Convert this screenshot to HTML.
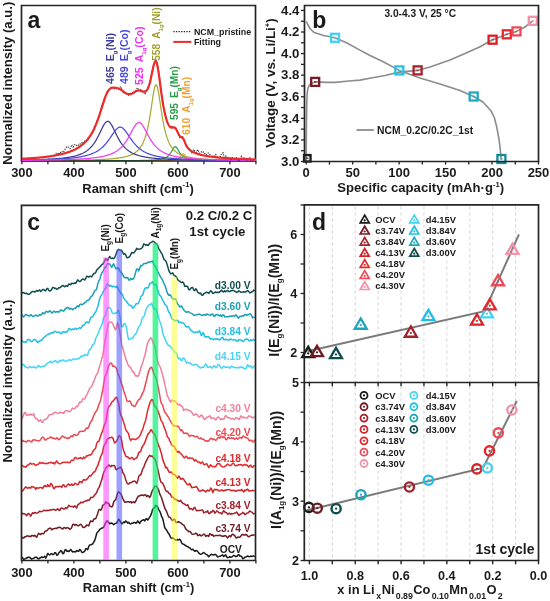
<!DOCTYPE html>
<html><head><meta charset="utf-8"><title>Raman figure</title>
<style>html,body{margin:0;padding:0;background:#fff;} svg{display:block;filter:blur(0.4px);}</style></head>
<body><svg width="550" height="601" viewBox="0 0 550 601">
<rect width="550" height="601" fill="#fff"/>
<g id="pa">
<path d="M21.9 160.8L22.42 160.8L22.94 160.8L23.46 160.8L23.98 160.8L24.5 160.8L25.02 160.8L25.54 160.8L26.06 160.8L26.58 160.8L27.1 160.8L27.62 160.8L28.14 160.8L28.66 160.8L29.18 160.8L29.7 160.8L30.22 160.8L30.74 160.8L31.26 160.8L31.78 160.8L32.3 160.8L32.82 160.8L33.34 160.8L33.86 160.8L34.38 160.8L34.9 160.8L35.42 160.8L35.94 160.8L36.46 160.8L36.98 160.8L37.5 160.8L38.02 160.8L38.54 160.8L39.06 160.8L39.58 160.8L40.1 160.8L40.62 160.8L41.14 160.8L41.66 160.8L42.18 160.8L42.7 160.8L43.22 160.8L43.74 160.8L44.26 160.8L44.78 160.8L45.3 160.8L45.82 160.8L46.34 160.8L46.86 160.8L47.38 160.8L47.9 160.8L48.42 160.8L48.94 160.8L49.46 160.8L49.98 160.8L50.5 160.8L51.02 160.8L51.54 160.8L52.06 160.8L52.58 160.8L53.1 160.8L53.62 160.8L54.14 160.8L54.66 160.8L55.18 160.8L55.7 160.8L56.22 160.8L56.74 160.8L57.26 160.8L57.78 160.8L58.3 160.8L58.82 160.8L59.34 160.8L59.86 160.8L60.38 160.8L60.9 160.8L61.42 160.8L61.94 160.8L62.46 160.8L62.98 160.8L63.5 160.8L64.02 160.8L64.54 160.8L65.06 160.8L65.58 160.8L66.1 160.8L66.62 160.79L67.14 160.79L67.66 160.79L68.18 160.79L68.7 160.79L69.22 160.79L69.74 160.79L70.26 160.79L70.78 160.79L71.3 160.79L71.82 160.79L72.34 160.79L72.86 160.79L73.38 160.79L73.9 160.79L74.42 160.79L74.94 160.79L75.46 160.79L75.98 160.79L76.5 160.79L77.02 160.79L77.54 160.79L78.06 160.79L78.58 160.79L79.1 160.79L79.62 160.79L80.14 160.79L80.66 160.79L81.18 160.79L81.7 160.79L82.22 160.79L82.74 160.79L83.26 160.79L83.78 160.79L84.3 160.79L84.82 160.79L85.34 160.79L85.86 160.79L86.38 160.79L86.9 160.79L87.42 160.79L87.94 160.79L88.46 160.79L88.98 160.79L89.5 160.79L90.02 160.79L90.54 160.79L91.06 160.79L91.58 160.79L92.1 160.79L92.62 160.79L93.14 160.79L93.66 160.79L94.18 160.79L94.7 160.79L95.22 160.79L95.74 160.79L96.26 160.79L96.78 160.79L97.3 160.79L97.82 160.79L98.34 160.79L98.86 160.79L99.38 160.79L99.9 160.79L100.42 160.79L100.94 160.79L101.46 160.79L101.98 160.79L102.5 160.79L103.02 160.79L103.54 160.79L104.06 160.79L104.58 160.79L105.1 160.79L105.62 160.79L106.14 160.79L106.66 160.79L107.18 160.79L107.7 160.79L108.22 160.79L108.74 160.79L109.26 160.79L109.78 160.79L110.3 160.79L110.82 160.79L111.34 160.79L111.86 160.79L112.38 160.79L112.9 160.79L113.42 160.79L113.94 160.79L114.46 160.79L114.98 160.79L115.5 160.79L116.02 160.78L116.54 160.78L117.06 160.78L117.58 160.78L118.1 160.78L118.62 160.78L119.14 160.78L119.66 160.78L120.18 160.78L120.7 160.78L121.22 160.78L121.74 160.78L122.26 160.78L122.78 160.78L123.3 160.78L123.82 160.78L124.34 160.78L124.86 160.78L125.38 160.78L125.9 160.78L126.42 160.78L126.94 160.78L127.46 160.78L127.98 160.78L128.5 160.78L129.02 160.78L129.54 160.78L130.06 160.78L130.58 160.78L131.1 160.77L131.62 160.77L132.14 160.77L132.66 160.77L133.18 160.77L133.7 160.77L134.22 160.77L134.74 160.77L135.26 160.77L135.78 160.77L136.3 160.77L136.82 160.77L137.34 160.77L137.86 160.77L138.38 160.77L138.9 160.77L139.42 160.76L139.94 160.76L140.46 160.76L140.98 160.76L141.5 160.76L142.02 160.76L142.54 160.76L143.06 160.76L143.58 160.76L144.1 160.76L144.62 160.75L145.14 160.75L145.66 160.75L146.18 160.75L146.7 160.75L147.22 160.75L147.74 160.75L148.26 160.74L148.78 160.74L149.3 160.74L149.82 160.74L150.34 160.74L150.86 160.74L151.38 160.73L151.9 160.73L152.42 160.73L152.94 160.73L153.46 160.72L153.98 160.72L154.5 160.72L155.02 160.71L155.54 160.71L156.06 160.71L156.58 160.7L157.1 160.7L157.62 160.7L158.14 160.69L158.66 160.69L159.18 160.68L159.7 160.68L160.22 160.67L160.74 160.67L161.26 160.66L161.78 160.65L162.3 160.65L162.82 160.64L163.34 160.63L163.86 160.62L164.38 160.61L164.9 160.6L165.42 160.59L165.94 160.58L166.46 160.56L166.98 160.55L167.5 160.53L168.02 160.51L168.54 160.49L169.06 160.47L169.58 160.45L170.1 160.42L170.62 160.39L171.14 160.35L171.66 160.32L172.18 160.27L172.7 160.22L173.22 160.17L173.74 160.1L174.26 160.02L174.78 159.94L175.3 159.83L175.82 159.71L176.34 159.57L176.86 159.4L177.38 159.19L177.9 158.95L178.42 158.65L178.94 158.28L179.46 157.84L179.98 157.3L180.5 156.67L181.02 155.95L181.54 155.2L182.06 154.5L182.58 153.99L183.1 153.8L183.62 153.99L184.14 154.5L184.66 155.2L185.18 155.95L185.7 156.67L186.22 157.3L186.74 157.84L187.26 158.28L187.78 158.65L188.3 158.95L188.82 159.19L189.34 159.4L189.86 159.57L190.38 159.71L190.9 159.83L191.42 159.94L191.94 160.02L192.46 160.1L192.98 160.17L193.5 160.22L194.02 160.27L194.54 160.32L195.06 160.35L195.58 160.39L196.1 160.42L196.62 160.45L197.14 160.47L197.66 160.49L198.18 160.51L198.7 160.53L199.22 160.55L199.74 160.56L200.26 160.58L200.78 160.59L201.3 160.6L201.82 160.61L202.34 160.62L202.86 160.63L203.38 160.64L203.9 160.65L204.42 160.65L204.94 160.66L205.46 160.67L205.98 160.67L206.5 160.68L207.02 160.68L207.54 160.69L208.06 160.69L208.58 160.7L209.1 160.7L209.62 160.7L210.14 160.71L210.66 160.71L211.18 160.71L211.7 160.72L212.22 160.72L212.74 160.72L213.26 160.73L213.78 160.73L214.3 160.73L214.82 160.73L215.34 160.74L215.86 160.74L216.38 160.74L216.9 160.74L217.42 160.74L217.94 160.74L218.46 160.75L218.98 160.75L219.5 160.75L220.02 160.75L220.54 160.75L221.06 160.75L221.58 160.75L222.1 160.76L222.62 160.76L223.14 160.76L223.66 160.76L224.18 160.76L224.7 160.76L225.22 160.76L225.74 160.76L226.26 160.76L226.78 160.76L227.3 160.77L227.82 160.77L228.34 160.77L228.86 160.77L229.38 160.77L229.9 160.77L230.42 160.77L230.94 160.77L231.46 160.77L231.98 160.77L232.5 160.77L233.02 160.77L233.54 160.77L234.06 160.77L234.58 160.77L235.1 160.77L235.62 160.78L236.14 160.78L236.66 160.78L237.18 160.78L237.7 160.78L238.22 160.78L238.74 160.78L239.26 160.78L239.78 160.78L240.3 160.78L240.82 160.78L241.34 160.78L241.86 160.78L242.38 160.78L242.9 160.78L243.42 160.78L243.94 160.78L244.46 160.78L244.98 160.78L245.5 160.78L246.02 160.78L246.54 160.78L247.06 160.78L247.58 160.78L248.1 160.78L248.62 160.78L249.14 160.78L249.66 160.78L250.18 160.78L250.7 160.79L251.22 160.79L251.74 160.79L252.26 160.79L252.78 160.79L253.3 160.79L253.82 160.79L254.34 160.79L254.86 160.79L255.38 160.79L255.9 160.79" fill="none" stroke="#f5a030" stroke-width="1.25"/>
<path d="M21.9 160.78L22.42 160.78L22.94 160.78L23.46 160.78L23.98 160.78L24.5 160.78L25.02 160.78L25.54 160.78L26.06 160.78L26.58 160.78L27.1 160.78L27.62 160.78L28.14 160.78L28.66 160.78L29.18 160.78L29.7 160.78L30.22 160.78L30.74 160.78L31.26 160.78L31.78 160.78L32.3 160.78L32.82 160.78L33.34 160.78L33.86 160.78L34.38 160.78L34.9 160.78L35.42 160.78L35.94 160.78L36.46 160.78L36.98 160.78L37.5 160.78L38.02 160.78L38.54 160.78L39.06 160.78L39.58 160.78L40.1 160.78L40.62 160.78L41.14 160.78L41.66 160.78L42.18 160.78L42.7 160.78L43.22 160.78L43.74 160.78L44.26 160.78L44.78 160.78L45.3 160.78L45.82 160.78L46.34 160.78L46.86 160.78L47.38 160.78L47.9 160.78L48.42 160.78L48.94 160.78L49.46 160.78L49.98 160.78L50.5 160.78L51.02 160.78L51.54 160.78L52.06 160.77L52.58 160.77L53.1 160.77L53.62 160.77L54.14 160.77L54.66 160.77L55.18 160.77L55.7 160.77L56.22 160.77L56.74 160.77L57.26 160.77L57.78 160.77L58.3 160.77L58.82 160.77L59.34 160.77L59.86 160.77L60.38 160.77L60.9 160.77L61.42 160.77L61.94 160.77L62.46 160.77L62.98 160.77L63.5 160.77L64.02 160.77L64.54 160.77L65.06 160.77L65.58 160.77L66.1 160.77L66.62 160.77L67.14 160.77L67.66 160.77L68.18 160.77L68.7 160.77L69.22 160.77L69.74 160.77L70.26 160.77L70.78 160.77L71.3 160.76L71.82 160.76L72.34 160.76L72.86 160.76L73.38 160.76L73.9 160.76L74.42 160.76L74.94 160.76L75.46 160.76L75.98 160.76L76.5 160.76L77.02 160.76L77.54 160.76L78.06 160.76L78.58 160.76L79.1 160.76L79.62 160.76L80.14 160.76L80.66 160.76L81.18 160.76L81.7 160.76L82.22 160.76L82.74 160.76L83.26 160.76L83.78 160.75L84.3 160.75L84.82 160.75L85.34 160.75L85.86 160.75L86.38 160.75L86.9 160.75L87.42 160.75L87.94 160.75L88.46 160.75L88.98 160.75L89.5 160.75L90.02 160.75L90.54 160.75L91.06 160.75L91.58 160.75L92.1 160.75L92.62 160.74L93.14 160.74L93.66 160.74L94.18 160.74L94.7 160.74L95.22 160.74L95.74 160.74L96.26 160.74L96.78 160.74L97.3 160.74L97.82 160.74L98.34 160.74L98.86 160.74L99.38 160.73L99.9 160.73L100.42 160.73L100.94 160.73L101.46 160.73L101.98 160.73L102.5 160.73L103.02 160.73L103.54 160.73L104.06 160.73L104.58 160.72L105.1 160.72L105.62 160.72L106.14 160.72L106.66 160.72L107.18 160.72L107.7 160.72L108.22 160.72L108.74 160.71L109.26 160.71L109.78 160.71L110.3 160.71L110.82 160.71L111.34 160.71L111.86 160.71L112.38 160.7L112.9 160.7L113.42 160.7L113.94 160.7L114.46 160.7L114.98 160.7L115.5 160.69L116.02 160.69L116.54 160.69L117.06 160.69L117.58 160.69L118.1 160.68L118.62 160.68L119.14 160.68L119.66 160.68L120.18 160.68L120.7 160.67L121.22 160.67L121.74 160.67L122.26 160.67L122.78 160.66L123.3 160.66L123.82 160.66L124.34 160.65L124.86 160.65L125.38 160.65L125.9 160.65L126.42 160.64L126.94 160.64L127.46 160.64L127.98 160.63L128.5 160.63L129.02 160.62L129.54 160.62L130.06 160.62L130.58 160.61L131.1 160.61L131.62 160.6L132.14 160.6L132.66 160.59L133.18 160.59L133.7 160.58L134.22 160.58L134.74 160.57L135.26 160.57L135.78 160.56L136.3 160.55L136.82 160.55L137.34 160.54L137.86 160.53L138.38 160.53L138.9 160.52L139.42 160.51L139.94 160.5L140.46 160.49L140.98 160.48L141.5 160.47L142.02 160.46L142.54 160.45L143.06 160.44L143.58 160.43L144.1 160.42L144.62 160.41L145.14 160.39L145.66 160.38L146.18 160.36L146.7 160.35L147.22 160.33L147.74 160.32L148.26 160.3L148.78 160.28L149.3 160.26L149.82 160.24L150.34 160.21L150.86 160.19L151.38 160.16L151.9 160.14L152.42 160.11L152.94 160.08L153.46 160.04L153.98 160.01L154.5 159.97L155.02 159.93L155.54 159.89L156.06 159.84L156.58 159.79L157.1 159.74L157.62 159.68L158.14 159.61L158.66 159.55L159.18 159.47L159.7 159.39L160.22 159.3L160.74 159.2L161.26 159.1L161.78 158.98L162.3 158.86L162.82 158.71L163.34 158.56L163.86 158.39L164.38 158.19L164.9 157.98L165.42 157.74L165.94 157.47L166.46 157.18L166.98 156.84L167.5 156.46L168.02 156.04L168.54 155.56L169.06 155.02L169.58 154.42L170.1 153.75L170.62 153.01L171.14 152.2L171.66 151.34L172.18 150.43L172.7 149.52L173.22 148.64L173.74 147.86L174.26 147.24L174.78 146.84L175.3 146.7L175.82 146.84L176.34 147.24L176.86 147.86L177.38 148.64L177.9 149.52L178.42 150.43L178.94 151.34L179.46 152.2L179.98 153.01L180.5 153.75L181.02 154.42L181.54 155.02L182.06 155.56L182.58 156.04L183.1 156.46L183.62 156.84L184.14 157.18L184.66 157.47L185.18 157.74L185.7 157.98L186.22 158.19L186.74 158.39L187.26 158.56L187.78 158.71L188.3 158.86L188.82 158.98L189.34 159.1L189.86 159.2L190.38 159.3L190.9 159.39L191.42 159.47L191.94 159.55L192.46 159.61L192.98 159.68L193.5 159.74L194.02 159.79L194.54 159.84L195.06 159.89L195.58 159.93L196.1 159.97L196.62 160.01L197.14 160.04L197.66 160.08L198.18 160.11L198.7 160.14L199.22 160.16L199.74 160.19L200.26 160.21L200.78 160.24L201.3 160.26L201.82 160.28L202.34 160.3L202.86 160.32L203.38 160.33L203.9 160.35L204.42 160.36L204.94 160.38L205.46 160.39L205.98 160.41L206.5 160.42L207.02 160.43L207.54 160.44L208.06 160.45L208.58 160.46L209.1 160.47L209.62 160.48L210.14 160.49L210.66 160.5L211.18 160.51L211.7 160.52L212.22 160.53L212.74 160.53L213.26 160.54L213.78 160.55L214.3 160.55L214.82 160.56L215.34 160.57L215.86 160.57L216.38 160.58L216.9 160.58L217.42 160.59L217.94 160.59L218.46 160.6L218.98 160.6L219.5 160.61L220.02 160.61L220.54 160.62L221.06 160.62L221.58 160.62L222.1 160.63L222.62 160.63L223.14 160.64L223.66 160.64L224.18 160.64L224.7 160.65L225.22 160.65L225.74 160.65L226.26 160.65L226.78 160.66L227.3 160.66L227.82 160.66L228.34 160.67L228.86 160.67L229.38 160.67L229.9 160.67L230.42 160.68L230.94 160.68L231.46 160.68L231.98 160.68L232.5 160.68L233.02 160.69L233.54 160.69L234.06 160.69L234.58 160.69L235.1 160.69L235.62 160.7L236.14 160.7L236.66 160.7L237.18 160.7L237.7 160.7L238.22 160.7L238.74 160.71L239.26 160.71L239.78 160.71L240.3 160.71L240.82 160.71L241.34 160.71L241.86 160.71L242.38 160.72L242.9 160.72L243.42 160.72L243.94 160.72L244.46 160.72L244.98 160.72L245.5 160.72L246.02 160.72L246.54 160.73L247.06 160.73L247.58 160.73L248.1 160.73L248.62 160.73L249.14 160.73L249.66 160.73L250.18 160.73L250.7 160.73L251.22 160.73L251.74 160.74L252.26 160.74L252.78 160.74L253.3 160.74L253.82 160.74L254.34 160.74L254.86 160.74L255.38 160.74L255.9 160.74" fill="none" stroke="#2ca048" stroke-width="1.25"/>
<path d="M21.9 160.58L22.42 160.58L22.94 160.57L23.46 160.57L23.98 160.57L24.5 160.57L25.02 160.57L25.54 160.56L26.06 160.56L26.58 160.56L27.1 160.56L27.62 160.56L28.14 160.55L28.66 160.55L29.18 160.55L29.7 160.55L30.22 160.55L30.74 160.54L31.26 160.54L31.78 160.54L32.3 160.54L32.82 160.54L33.34 160.53L33.86 160.53L34.38 160.53L34.9 160.53L35.42 160.52L35.94 160.52L36.46 160.52L36.98 160.52L37.5 160.51L38.02 160.51L38.54 160.51L39.06 160.51L39.58 160.5L40.1 160.5L40.62 160.5L41.14 160.5L41.66 160.49L42.18 160.49L42.7 160.49L43.22 160.48L43.74 160.48L44.26 160.48L44.78 160.48L45.3 160.47L45.82 160.47L46.34 160.47L46.86 160.46L47.38 160.46L47.9 160.46L48.42 160.45L48.94 160.45L49.46 160.45L49.98 160.44L50.5 160.44L51.02 160.44L51.54 160.43L52.06 160.43L52.58 160.43L53.1 160.42L53.62 160.42L54.14 160.41L54.66 160.41L55.18 160.41L55.7 160.4L56.22 160.4L56.74 160.39L57.26 160.39L57.78 160.39L58.3 160.38L58.82 160.38L59.34 160.37L59.86 160.37L60.38 160.36L60.9 160.36L61.42 160.35L61.94 160.35L62.46 160.34L62.98 160.34L63.5 160.33L64.02 160.33L64.54 160.32L65.06 160.32L65.58 160.31L66.1 160.31L66.62 160.3L67.14 160.29L67.66 160.29L68.18 160.28L68.7 160.28L69.22 160.27L69.74 160.26L70.26 160.26L70.78 160.25L71.3 160.24L71.82 160.24L72.34 160.23L72.86 160.22L73.38 160.22L73.9 160.21L74.42 160.2L74.94 160.19L75.46 160.18L75.98 160.18L76.5 160.17L77.02 160.16L77.54 160.15L78.06 160.14L78.58 160.13L79.1 160.13L79.62 160.12L80.14 160.11L80.66 160.1L81.18 160.09L81.7 160.08L82.22 160.07L82.74 160.06L83.26 160.05L83.78 160.04L84.3 160.03L84.82 160.01L85.34 160L85.86 159.99L86.38 159.98L86.9 159.97L87.42 159.95L87.94 159.94L88.46 159.93L88.98 159.92L89.5 159.9L90.02 159.89L90.54 159.87L91.06 159.86L91.58 159.84L92.1 159.83L92.62 159.81L93.14 159.8L93.66 159.78L94.18 159.76L94.7 159.75L95.22 159.73L95.74 159.71L96.26 159.69L96.78 159.67L97.3 159.65L97.82 159.63L98.34 159.61L98.86 159.59L99.38 159.57L99.9 159.54L100.42 159.52L100.94 159.5L101.46 159.47L101.98 159.45L102.5 159.42L103.02 159.39L103.54 159.37L104.06 159.34L104.58 159.31L105.1 159.28L105.62 159.25L106.14 159.22L106.66 159.18L107.18 159.15L107.7 159.12L108.22 159.08L108.74 159.04L109.26 159L109.78 158.96L110.3 158.92L110.82 158.88L111.34 158.84L111.86 158.79L112.38 158.75L112.9 158.7L113.42 158.65L113.94 158.6L114.46 158.54L114.98 158.49L115.5 158.43L116.02 158.37L116.54 158.31L117.06 158.24L117.58 158.17L118.1 158.1L118.62 158.03L119.14 157.96L119.66 157.88L120.18 157.79L120.7 157.71L121.22 157.62L121.74 157.53L122.26 157.43L122.78 157.33L123.3 157.22L123.82 157.11L124.34 157L124.86 156.88L125.38 156.75L125.9 156.62L126.42 156.48L126.94 156.33L127.46 156.18L127.98 156.01L128.5 155.84L129.02 155.66L129.54 155.47L130.06 155.27L130.58 155.06L131.1 154.84L131.62 154.61L132.14 154.36L132.66 154.09L133.18 153.81L133.7 153.52L134.22 153.2L134.74 152.86L135.26 152.51L135.78 152.12L136.3 151.72L136.82 151.28L137.34 150.82L137.86 150.32L138.38 149.78L138.9 149.21L139.42 148.59L139.94 147.93L140.46 147.21L140.98 146.44L141.5 145.6L142.02 144.7L142.54 143.72L143.06 142.66L143.58 141.5L144.1 140.25L144.62 138.89L145.14 137.42L145.66 135.81L146.18 134.06L146.7 132.15L147.22 130.09L147.74 127.84L148.26 125.42L148.78 122.8L149.3 119.99L149.82 116.99L150.34 113.81L150.86 110.48L151.38 107.02L151.9 103.51L152.42 100L152.94 96.59L153.46 93.4L153.98 90.54L154.5 88.14L155.02 86.32L155.54 85.19L156.06 84.8L156.58 85.19L157.1 86.32L157.62 88.14L158.14 90.54L158.66 93.4L159.18 96.59L159.7 100L160.22 103.51L160.74 107.02L161.26 110.48L161.78 113.81L162.3 116.99L162.82 119.99L163.34 122.8L163.86 125.42L164.38 127.84L164.9 130.09L165.42 132.15L165.94 134.06L166.46 135.81L166.98 137.42L167.5 138.89L168.02 140.25L168.54 141.5L169.06 142.66L169.58 143.72L170.1 144.7L170.62 145.6L171.14 146.44L171.66 147.21L172.18 147.93L172.7 148.59L173.22 149.21L173.74 149.78L174.26 150.32L174.78 150.82L175.3 151.28L175.82 151.72L176.34 152.12L176.86 152.51L177.38 152.86L177.9 153.2L178.42 153.52L178.94 153.81L179.46 154.09L179.98 154.36L180.5 154.61L181.02 154.84L181.54 155.06L182.06 155.27L182.58 155.47L183.1 155.66L183.62 155.84L184.14 156.01L184.66 156.18L185.18 156.33L185.7 156.48L186.22 156.62L186.74 156.75L187.26 156.88L187.78 157L188.3 157.11L188.82 157.22L189.34 157.33L189.86 157.43L190.38 157.53L190.9 157.62L191.42 157.71L191.94 157.79L192.46 157.88L192.98 157.96L193.5 158.03L194.02 158.1L194.54 158.17L195.06 158.24L195.58 158.31L196.1 158.37L196.62 158.43L197.14 158.49L197.66 158.54L198.18 158.6L198.7 158.65L199.22 158.7L199.74 158.75L200.26 158.79L200.78 158.84L201.3 158.88L201.82 158.92L202.34 158.96L202.86 159L203.38 159.04L203.9 159.08L204.42 159.12L204.94 159.15L205.46 159.18L205.98 159.22L206.5 159.25L207.02 159.28L207.54 159.31L208.06 159.34L208.58 159.37L209.1 159.39L209.62 159.42L210.14 159.45L210.66 159.47L211.18 159.5L211.7 159.52L212.22 159.54L212.74 159.57L213.26 159.59L213.78 159.61L214.3 159.63L214.82 159.65L215.34 159.67L215.86 159.69L216.38 159.71L216.9 159.73L217.42 159.75L217.94 159.76L218.46 159.78L218.98 159.8L219.5 159.81L220.02 159.83L220.54 159.84L221.06 159.86L221.58 159.87L222.1 159.89L222.62 159.9L223.14 159.92L223.66 159.93L224.18 159.94L224.7 159.95L225.22 159.97L225.74 159.98L226.26 159.99L226.78 160L227.3 160.01L227.82 160.03L228.34 160.04L228.86 160.05L229.38 160.06L229.9 160.07L230.42 160.08L230.94 160.09L231.46 160.1L231.98 160.11L232.5 160.12L233.02 160.13L233.54 160.13L234.06 160.14L234.58 160.15L235.1 160.16L235.62 160.17L236.14 160.18L236.66 160.18L237.18 160.19L237.7 160.2L238.22 160.21L238.74 160.22L239.26 160.22L239.78 160.23L240.3 160.24L240.82 160.24L241.34 160.25L241.86 160.26L242.38 160.26L242.9 160.27L243.42 160.28L243.94 160.28L244.46 160.29L244.98 160.29L245.5 160.3L246.02 160.31L246.54 160.31L247.06 160.32L247.58 160.32L248.1 160.33L248.62 160.33L249.14 160.34L249.66 160.34L250.18 160.35L250.7 160.35L251.22 160.36L251.74 160.36L252.26 160.37L252.78 160.37L253.3 160.38L253.82 160.38L254.34 160.39L254.86 160.39L255.38 160.39L255.9 160.4" fill="none" stroke="#a8a832" stroke-width="1.25"/>
<path d="M21.5 5.5H255.5V161H21.5Z" fill="none" stroke="#242424" stroke-width="1.7"/>
<path d="M21.9 160.02L22.42 160.01L22.94 160L23.46 159.99L23.98 159.98L24.5 159.97L25.02 159.96L25.54 159.95L26.06 159.94L26.58 159.93L27.1 159.92L27.62 159.91L28.14 159.9L28.66 159.89L29.18 159.87L29.7 159.86L30.22 159.85L30.74 159.84L31.26 159.82L31.78 159.81L32.3 159.8L32.82 159.78L33.34 159.77L33.86 159.76L34.38 159.74L34.9 159.73L35.42 159.71L35.94 159.7L36.46 159.68L36.98 159.66L37.5 159.65L38.02 159.63L38.54 159.61L39.06 159.6L39.58 159.58L40.1 159.56L40.62 159.54L41.14 159.52L41.66 159.5L42.18 159.48L42.7 159.46L43.22 159.44L43.74 159.42L44.26 159.4L44.78 159.38L45.3 159.35L45.82 159.33L46.34 159.31L46.86 159.28L47.38 159.26L47.9 159.23L48.42 159.2L48.94 159.18L49.46 159.15L49.98 159.12L50.5 159.09L51.02 159.06L51.54 159.03L52.06 159L52.58 158.96L53.1 158.93L53.62 158.9L54.14 158.86L54.66 158.83L55.18 158.79L55.7 158.75L56.22 158.71L56.74 158.67L57.26 158.63L57.78 158.58L58.3 158.54L58.82 158.5L59.34 158.45L59.86 158.4L60.38 158.35L60.9 158.3L61.42 158.25L61.94 158.19L62.46 158.14L62.98 158.08L63.5 158.02L64.02 157.96L64.54 157.89L65.06 157.83L65.58 157.76L66.1 157.69L66.62 157.61L67.14 157.54L67.66 157.46L68.18 157.38L68.7 157.3L69.22 157.21L69.74 157.12L70.26 157.03L70.78 156.93L71.3 156.83L71.82 156.73L72.34 156.62L72.86 156.51L73.38 156.39L73.9 156.27L74.42 156.14L74.94 156.01L75.46 155.87L75.98 155.73L76.5 155.59L77.02 155.43L77.54 155.27L78.06 155.1L78.58 154.93L79.1 154.75L79.62 154.56L80.14 154.36L80.66 154.15L81.18 153.93L81.7 153.7L82.22 153.46L82.74 153.22L83.26 152.95L83.78 152.68L84.3 152.39L84.82 152.09L85.34 151.78L85.86 151.44L86.38 151.09L86.9 150.73L87.42 150.34L87.94 149.94L88.46 149.51L88.98 149.07L89.5 148.6L90.02 148.1L90.54 147.58L91.06 147.04L91.58 146.46L92.1 145.86L92.62 145.22L93.14 144.56L93.66 143.86L94.18 143.12L94.7 142.35L95.22 141.55L95.74 140.71L96.26 139.83L96.78 138.92L97.3 137.97L97.82 136.99L98.34 135.98L98.86 134.95L99.38 133.88L99.9 132.8L100.42 131.71L100.94 130.62L101.46 129.52L101.98 128.45L102.5 127.4L103.02 126.39L103.54 125.43L104.06 124.54L104.58 123.74L105.1 123.02L105.62 122.42L106.14 121.94L106.66 121.59L107.18 121.37L107.7 121.3L108.22 121.37L108.74 121.59L109.26 121.94L109.78 122.42L110.3 123.02L110.82 123.74L111.34 124.54L111.86 125.43L112.38 126.39L112.9 127.4L113.42 128.45L113.94 129.52L114.46 130.62L114.98 131.71L115.5 132.8L116.02 133.88L116.54 134.95L117.06 135.98L117.58 136.99L118.1 137.97L118.62 138.92L119.14 139.83L119.66 140.71L120.18 141.55L120.7 142.35L121.22 143.12L121.74 143.86L122.26 144.56L122.78 145.22L123.3 145.86L123.82 146.46L124.34 147.04L124.86 147.58L125.38 148.1L125.9 148.6L126.42 149.07L126.94 149.51L127.46 149.94L127.98 150.34L128.5 150.73L129.02 151.09L129.54 151.44L130.06 151.78L130.58 152.09L131.1 152.39L131.62 152.68L132.14 152.95L132.66 153.22L133.18 153.46L133.7 153.7L134.22 153.93L134.74 154.15L135.26 154.36L135.78 154.56L136.3 154.75L136.82 154.93L137.34 155.1L137.86 155.27L138.38 155.43L138.9 155.59L139.42 155.73L139.94 155.87L140.46 156.01L140.98 156.14L141.5 156.27L142.02 156.39L142.54 156.51L143.06 156.62L143.58 156.73L144.1 156.83L144.62 156.93L145.14 157.03L145.66 157.12L146.18 157.21L146.7 157.3L147.22 157.38L147.74 157.46L148.26 157.54L148.78 157.61L149.3 157.69L149.82 157.76L150.34 157.83L150.86 157.89L151.38 157.96L151.9 158.02L152.42 158.08L152.94 158.14L153.46 158.19L153.98 158.25L154.5 158.3L155.02 158.35L155.54 158.4L156.06 158.45L156.58 158.5L157.1 158.54L157.62 158.58L158.14 158.63L158.66 158.67L159.18 158.71L159.7 158.75L160.22 158.79L160.74 158.83L161.26 158.86L161.78 158.9L162.3 158.93L162.82 158.96L163.34 159L163.86 159.03L164.38 159.06L164.9 159.09L165.42 159.12L165.94 159.15L166.46 159.18L166.98 159.2L167.5 159.23L168.02 159.26L168.54 159.28L169.06 159.31L169.58 159.33L170.1 159.35L170.62 159.38L171.14 159.4L171.66 159.42L172.18 159.44L172.7 159.46L173.22 159.48L173.74 159.5L174.26 159.52L174.78 159.54L175.3 159.56L175.82 159.58L176.34 159.6L176.86 159.61L177.38 159.63L177.9 159.65L178.42 159.66L178.94 159.68L179.46 159.7L179.98 159.71L180.5 159.73L181.02 159.74L181.54 159.76L182.06 159.77L182.58 159.78L183.1 159.8L183.62 159.81L184.14 159.82L184.66 159.84L185.18 159.85L185.7 159.86L186.22 159.87L186.74 159.89L187.26 159.9L187.78 159.91L188.3 159.92L188.82 159.93L189.34 159.94L189.86 159.95L190.38 159.96L190.9 159.97L191.42 159.98L191.94 159.99L192.46 160L192.98 160.01L193.5 160.02L194.02 160.03L194.54 160.04L195.06 160.05L195.58 160.06L196.1 160.07L196.62 160.07L197.14 160.08L197.66 160.09L198.18 160.1L198.7 160.11L199.22 160.11L199.74 160.12L200.26 160.13L200.78 160.14L201.3 160.14L201.82 160.15L202.34 160.16L202.86 160.16L203.38 160.17L203.9 160.18L204.42 160.18L204.94 160.19L205.46 160.2L205.98 160.2L206.5 160.21L207.02 160.22L207.54 160.22L208.06 160.23L208.58 160.23L209.1 160.24L209.62 160.24L210.14 160.25L210.66 160.26L211.18 160.26L211.7 160.27L212.22 160.27L212.74 160.28L213.26 160.28L213.78 160.29L214.3 160.29L214.82 160.3L215.34 160.3L215.86 160.31L216.38 160.31L216.9 160.32L217.42 160.32L217.94 160.32L218.46 160.33L218.98 160.33L219.5 160.34L220.02 160.34L220.54 160.35L221.06 160.35L221.58 160.35L222.1 160.36L222.62 160.36L223.14 160.37L223.66 160.37L224.18 160.37L224.7 160.38L225.22 160.38L225.74 160.38L226.26 160.39L226.78 160.39L227.3 160.4L227.82 160.4L228.34 160.4L228.86 160.41L229.38 160.41L229.9 160.41L230.42 160.42L230.94 160.42L231.46 160.42L231.98 160.42L232.5 160.43L233.02 160.43L233.54 160.43L234.06 160.44L234.58 160.44L235.1 160.44L235.62 160.45L236.14 160.45L236.66 160.45L237.18 160.45L237.7 160.46L238.22 160.46L238.74 160.46L239.26 160.46L239.78 160.47L240.3 160.47L240.82 160.47L241.34 160.48L241.86 160.48L242.38 160.48L242.9 160.48L243.42 160.49L243.94 160.49L244.46 160.49L244.98 160.49L245.5 160.49L246.02 160.5L246.54 160.5L247.06 160.5L247.58 160.5L248.1 160.51L248.62 160.51L249.14 160.51L249.66 160.51L250.18 160.51L250.7 160.52L251.22 160.52L251.74 160.52L252.26 160.52L252.78 160.52L253.3 160.53L253.82 160.53L254.34 160.53L254.86 160.53L255.38 160.53L255.9 160.54" fill="none" stroke="#3c3c96" stroke-width="1.25"/>
<path d="M21.9 160.08L22.42 160.07L22.94 160.06L23.46 160.05L23.98 160.05L24.5 160.04L25.02 160.03L25.54 160.02L26.06 160.01L26.58 160L27.1 160L27.62 159.99L28.14 159.98L28.66 159.97L29.18 159.96L29.7 159.95L30.22 159.94L30.74 159.93L31.26 159.92L31.78 159.91L32.3 159.9L32.82 159.89L33.34 159.88L33.86 159.87L34.38 159.86L34.9 159.85L35.42 159.83L35.94 159.82L36.46 159.81L36.98 159.8L37.5 159.79L38.02 159.77L38.54 159.76L39.06 159.75L39.58 159.74L40.1 159.72L40.62 159.71L41.14 159.69L41.66 159.68L42.18 159.67L42.7 159.65L43.22 159.64L43.74 159.62L44.26 159.6L44.78 159.59L45.3 159.57L45.82 159.56L46.34 159.54L46.86 159.52L47.38 159.5L47.9 159.49L48.42 159.47L48.94 159.45L49.46 159.43L49.98 159.41L50.5 159.39L51.02 159.37L51.54 159.35L52.06 159.33L52.58 159.31L53.1 159.28L53.62 159.26L54.14 159.24L54.66 159.21L55.18 159.19L55.7 159.17L56.22 159.14L56.74 159.11L57.26 159.09L57.78 159.06L58.3 159.03L58.82 159L59.34 158.97L59.86 158.94L60.38 158.91L60.9 158.88L61.42 158.85L61.94 158.82L62.46 158.78L62.98 158.75L63.5 158.71L64.02 158.68L64.54 158.64L65.06 158.6L65.58 158.56L66.1 158.52L66.62 158.48L67.14 158.44L67.66 158.39L68.18 158.35L68.7 158.3L69.22 158.26L69.74 158.21L70.26 158.16L70.78 158.11L71.3 158.05L71.82 158L72.34 157.94L72.86 157.89L73.38 157.83L73.9 157.76L74.42 157.7L74.94 157.64L75.46 157.57L75.98 157.5L76.5 157.43L77.02 157.36L77.54 157.28L78.06 157.2L78.58 157.12L79.1 157.04L79.62 156.95L80.14 156.86L80.66 156.77L81.18 156.68L81.7 156.58L82.22 156.48L82.74 156.37L83.26 156.26L83.78 156.15L84.3 156.04L84.82 155.91L85.34 155.79L85.86 155.66L86.38 155.53L86.9 155.39L87.42 155.24L87.94 155.09L88.46 154.94L88.98 154.77L89.5 154.61L90.02 154.43L90.54 154.25L91.06 154.06L91.58 153.86L92.1 153.66L92.62 153.45L93.14 153.23L93.66 152.99L94.18 152.75L94.7 152.5L95.22 152.24L95.74 151.97L96.26 151.69L96.78 151.39L97.3 151.09L97.82 150.77L98.34 150.43L98.86 150.08L99.38 149.72L99.9 149.34L100.42 148.94L100.94 148.53L101.46 148.1L101.98 147.65L102.5 147.18L103.02 146.69L103.54 146.19L104.06 145.66L104.58 145.11L105.1 144.54L105.62 143.95L106.14 143.34L106.66 142.7L107.18 142.05L107.7 141.37L108.22 140.68L108.74 139.96L109.26 139.23L109.78 138.49L110.3 137.73L110.82 136.95L111.34 136.18L111.86 135.4L112.38 134.61L112.9 133.84L113.42 133.08L113.94 132.33L114.46 131.61L114.98 130.91L115.5 130.26L116.02 129.64L116.54 129.08L117.06 128.58L117.58 128.14L118.1 127.77L118.62 127.48L119.14 127.27L119.66 127.14L120.18 127.1L120.7 127.14L121.22 127.27L121.74 127.48L122.26 127.77L122.78 128.14L123.3 128.58L123.82 129.08L124.34 129.64L124.86 130.26L125.38 130.91L125.9 131.61L126.42 132.33L126.94 133.08L127.46 133.84L127.98 134.61L128.5 135.4L129.02 136.18L129.54 136.95L130.06 137.73L130.58 138.49L131.1 139.23L131.62 139.96L132.14 140.68L132.66 141.37L133.18 142.05L133.7 142.7L134.22 143.34L134.74 143.95L135.26 144.54L135.78 145.11L136.3 145.66L136.82 146.19L137.34 146.69L137.86 147.18L138.38 147.65L138.9 148.1L139.42 148.53L139.94 148.94L140.46 149.34L140.98 149.72L141.5 150.08L142.02 150.43L142.54 150.77L143.06 151.09L143.58 151.39L144.1 151.69L144.62 151.97L145.14 152.24L145.66 152.5L146.18 152.75L146.7 152.99L147.22 153.23L147.74 153.45L148.26 153.66L148.78 153.86L149.3 154.06L149.82 154.25L150.34 154.43L150.86 154.61L151.38 154.77L151.9 154.94L152.42 155.09L152.94 155.24L153.46 155.39L153.98 155.53L154.5 155.66L155.02 155.79L155.54 155.91L156.06 156.04L156.58 156.15L157.1 156.26L157.62 156.37L158.14 156.48L158.66 156.58L159.18 156.68L159.7 156.77L160.22 156.86L160.74 156.95L161.26 157.04L161.78 157.12L162.3 157.2L162.82 157.28L163.34 157.36L163.86 157.43L164.38 157.5L164.9 157.57L165.42 157.64L165.94 157.7L166.46 157.76L166.98 157.83L167.5 157.89L168.02 157.94L168.54 158L169.06 158.05L169.58 158.11L170.1 158.16L170.62 158.21L171.14 158.26L171.66 158.3L172.18 158.35L172.7 158.39L173.22 158.44L173.74 158.48L174.26 158.52L174.78 158.56L175.3 158.6L175.82 158.64L176.34 158.68L176.86 158.71L177.38 158.75L177.9 158.78L178.42 158.82L178.94 158.85L179.46 158.88L179.98 158.91L180.5 158.94L181.02 158.97L181.54 159L182.06 159.03L182.58 159.06L183.1 159.09L183.62 159.11L184.14 159.14L184.66 159.17L185.18 159.19L185.7 159.21L186.22 159.24L186.74 159.26L187.26 159.28L187.78 159.31L188.3 159.33L188.82 159.35L189.34 159.37L189.86 159.39L190.38 159.41L190.9 159.43L191.42 159.45L191.94 159.47L192.46 159.49L192.98 159.5L193.5 159.52L194.02 159.54L194.54 159.56L195.06 159.57L195.58 159.59L196.1 159.6L196.62 159.62L197.14 159.64L197.66 159.65L198.18 159.67L198.7 159.68L199.22 159.69L199.74 159.71L200.26 159.72L200.78 159.74L201.3 159.75L201.82 159.76L202.34 159.77L202.86 159.79L203.38 159.8L203.9 159.81L204.42 159.82L204.94 159.83L205.46 159.85L205.98 159.86L206.5 159.87L207.02 159.88L207.54 159.89L208.06 159.9L208.58 159.91L209.1 159.92L209.62 159.93L210.14 159.94L210.66 159.95L211.18 159.96L211.7 159.97L212.22 159.98L212.74 159.99L213.26 160L213.78 160L214.3 160.01L214.82 160.02L215.34 160.03L215.86 160.04L216.38 160.05L216.9 160.05L217.42 160.06L217.94 160.07L218.46 160.08L218.98 160.08L219.5 160.09L220.02 160.1L220.54 160.11L221.06 160.11L221.58 160.12L222.1 160.13L222.62 160.13L223.14 160.14L223.66 160.15L224.18 160.15L224.7 160.16L225.22 160.16L225.74 160.17L226.26 160.18L226.78 160.18L227.3 160.19L227.82 160.19L228.34 160.2L228.86 160.21L229.38 160.21L229.9 160.22L230.42 160.22L230.94 160.23L231.46 160.23L231.98 160.24L232.5 160.24L233.02 160.25L233.54 160.25L234.06 160.26L234.58 160.26L235.1 160.27L235.62 160.27L236.14 160.28L236.66 160.28L237.18 160.29L237.7 160.29L238.22 160.29L238.74 160.3L239.26 160.3L239.78 160.31L240.3 160.31L240.82 160.32L241.34 160.32L241.86 160.32L242.38 160.33L242.9 160.33L243.42 160.34L243.94 160.34L244.46 160.34L244.98 160.35L245.5 160.35L246.02 160.35L246.54 160.36L247.06 160.36L247.58 160.37L248.1 160.37L248.62 160.37L249.14 160.38L249.66 160.38L250.18 160.38L250.7 160.39L251.22 160.39L251.74 160.39L252.26 160.4L252.78 160.4L253.3 160.4L253.82 160.4L254.34 160.41L254.86 160.41L255.38 160.41L255.9 160.42" fill="none" stroke="#4848e0" stroke-width="1.25"/>
<path d="M21.9 160.33L22.42 160.33L22.94 160.32L23.46 160.32L23.98 160.32L24.5 160.31L25.02 160.31L25.54 160.3L26.06 160.3L26.58 160.29L27.1 160.29L27.62 160.28L28.14 160.28L28.66 160.27L29.18 160.27L29.7 160.26L30.22 160.26L30.74 160.25L31.26 160.25L31.78 160.24L32.3 160.24L32.82 160.23L33.34 160.23L33.86 160.22L34.38 160.22L34.9 160.21L35.42 160.2L35.94 160.2L36.46 160.19L36.98 160.19L37.5 160.18L38.02 160.17L38.54 160.17L39.06 160.16L39.58 160.15L40.1 160.15L40.62 160.14L41.14 160.13L41.66 160.13L42.18 160.12L42.7 160.11L43.22 160.11L43.74 160.1L44.26 160.09L44.78 160.08L45.3 160.08L45.82 160.07L46.34 160.06L46.86 160.05L47.38 160.04L47.9 160.03L48.42 160.03L48.94 160.02L49.46 160.01L49.98 160L50.5 159.99L51.02 159.98L51.54 159.97L52.06 159.96L52.58 159.95L53.1 159.94L53.62 159.93L54.14 159.92L54.66 159.91L55.18 159.9L55.7 159.89L56.22 159.88L56.74 159.86L57.26 159.85L57.78 159.84L58.3 159.83L58.82 159.82L59.34 159.8L59.86 159.79L60.38 159.78L60.9 159.76L61.42 159.75L61.94 159.74L62.46 159.72L62.98 159.71L63.5 159.69L64.02 159.68L64.54 159.66L65.06 159.65L65.58 159.63L66.1 159.62L66.62 159.6L67.14 159.58L67.66 159.57L68.18 159.55L68.7 159.53L69.22 159.51L69.74 159.49L70.26 159.47L70.78 159.45L71.3 159.43L71.82 159.41L72.34 159.39L72.86 159.37L73.38 159.35L73.9 159.33L74.42 159.3L74.94 159.28L75.46 159.26L75.98 159.23L76.5 159.21L77.02 159.18L77.54 159.15L78.06 159.13L78.58 159.1L79.1 159.07L79.62 159.04L80.14 159.01L80.66 158.98L81.18 158.95L81.7 158.92L82.22 158.89L82.74 158.85L83.26 158.82L83.78 158.78L84.3 158.75L84.82 158.71L85.34 158.67L85.86 158.63L86.38 158.59L86.9 158.55L87.42 158.5L87.94 158.46L88.46 158.41L88.98 158.37L89.5 158.32L90.02 158.27L90.54 158.22L91.06 158.17L91.58 158.11L92.1 158.06L92.62 158L93.14 157.94L93.66 157.88L94.18 157.82L94.7 157.75L95.22 157.68L95.74 157.61L96.26 157.54L96.78 157.47L97.3 157.39L97.82 157.31L98.34 157.23L98.86 157.15L99.38 157.06L99.9 156.97L100.42 156.88L100.94 156.78L101.46 156.68L101.98 156.58L102.5 156.47L103.02 156.36L103.54 156.24L104.06 156.12L104.58 155.99L105.1 155.86L105.62 155.73L106.14 155.59L106.66 155.44L107.18 155.29L107.7 155.13L108.22 154.97L108.74 154.8L109.26 154.62L109.78 154.44L110.3 154.24L110.82 154.04L111.34 153.83L111.86 153.61L112.38 153.38L112.9 153.14L113.42 152.89L113.94 152.63L114.46 152.35L114.98 152.07L115.5 151.77L116.02 151.45L116.54 151.12L117.06 150.78L117.58 150.42L118.1 150.04L118.62 149.65L119.14 149.23L119.66 148.8L120.18 148.34L120.7 147.86L121.22 147.36L121.74 146.83L122.26 146.28L122.78 145.71L123.3 145.1L123.82 144.47L124.34 143.81L124.86 143.12L125.38 142.4L125.9 141.65L126.42 140.87L126.94 140.06L127.46 139.22L127.98 138.34L128.5 137.45L129.02 136.52L129.54 135.58L130.06 134.61L130.58 133.63L131.1 132.64L131.62 131.64L132.14 130.65L132.66 129.67L133.18 128.71L133.7 127.78L134.22 126.89L134.74 126.06L135.26 125.28L135.78 124.59L136.3 123.97L136.82 123.46L137.34 123.04L137.86 122.74L138.38 122.56L138.9 122.5L139.42 122.56L139.94 122.74L140.46 123.04L140.98 123.46L141.5 123.97L142.02 124.59L142.54 125.28L143.06 126.06L143.58 126.89L144.1 127.78L144.62 128.71L145.14 129.67L145.66 130.65L146.18 131.64L146.7 132.64L147.22 133.63L147.74 134.61L148.26 135.58L148.78 136.52L149.3 137.45L149.82 138.34L150.34 139.22L150.86 140.06L151.38 140.87L151.9 141.65L152.42 142.4L152.94 143.12L153.46 143.81L153.98 144.47L154.5 145.1L155.02 145.71L155.54 146.28L156.06 146.83L156.58 147.36L157.1 147.86L157.62 148.34L158.14 148.8L158.66 149.23L159.18 149.65L159.7 150.04L160.22 150.42L160.74 150.78L161.26 151.12L161.78 151.45L162.3 151.77L162.82 152.07L163.34 152.35L163.86 152.63L164.38 152.89L164.9 153.14L165.42 153.38L165.94 153.61L166.46 153.83L166.98 154.04L167.5 154.24L168.02 154.44L168.54 154.62L169.06 154.8L169.58 154.97L170.1 155.13L170.62 155.29L171.14 155.44L171.66 155.59L172.18 155.73L172.7 155.86L173.22 155.99L173.74 156.12L174.26 156.24L174.78 156.36L175.3 156.47L175.82 156.58L176.34 156.68L176.86 156.78L177.38 156.88L177.9 156.97L178.42 157.06L178.94 157.15L179.46 157.23L179.98 157.31L180.5 157.39L181.02 157.47L181.54 157.54L182.06 157.61L182.58 157.68L183.1 157.75L183.62 157.82L184.14 157.88L184.66 157.94L185.18 158L185.7 158.06L186.22 158.11L186.74 158.17L187.26 158.22L187.78 158.27L188.3 158.32L188.82 158.37L189.34 158.41L189.86 158.46L190.38 158.5L190.9 158.55L191.42 158.59L191.94 158.63L192.46 158.67L192.98 158.71L193.5 158.75L194.02 158.78L194.54 158.82L195.06 158.85L195.58 158.89L196.1 158.92L196.62 158.95L197.14 158.98L197.66 159.01L198.18 159.04L198.7 159.07L199.22 159.1L199.74 159.13L200.26 159.15L200.78 159.18L201.3 159.21L201.82 159.23L202.34 159.26L202.86 159.28L203.38 159.3L203.9 159.33L204.42 159.35L204.94 159.37L205.46 159.39L205.98 159.41L206.5 159.43L207.02 159.45L207.54 159.47L208.06 159.49L208.58 159.51L209.1 159.53L209.62 159.55L210.14 159.57L210.66 159.58L211.18 159.6L211.7 159.62L212.22 159.63L212.74 159.65L213.26 159.66L213.78 159.68L214.3 159.69L214.82 159.71L215.34 159.72L215.86 159.74L216.38 159.75L216.9 159.76L217.42 159.78L217.94 159.79L218.46 159.8L218.98 159.82L219.5 159.83L220.02 159.84L220.54 159.85L221.06 159.86L221.58 159.88L222.1 159.89L222.62 159.9L223.14 159.91L223.66 159.92L224.18 159.93L224.7 159.94L225.22 159.95L225.74 159.96L226.26 159.97L226.78 159.98L227.3 159.99L227.82 160L228.34 160.01L228.86 160.02L229.38 160.03L229.9 160.03L230.42 160.04L230.94 160.05L231.46 160.06L231.98 160.07L232.5 160.08L233.02 160.08L233.54 160.09L234.06 160.1L234.58 160.11L235.1 160.11L235.62 160.12L236.14 160.13L236.66 160.13L237.18 160.14L237.7 160.15L238.22 160.15L238.74 160.16L239.26 160.17L239.78 160.17L240.3 160.18L240.82 160.19L241.34 160.19L241.86 160.2L242.38 160.2L242.9 160.21L243.42 160.22L243.94 160.22L244.46 160.23L244.98 160.23L245.5 160.24L246.02 160.24L246.54 160.25L247.06 160.25L247.58 160.26L248.1 160.26L248.62 160.27L249.14 160.27L249.66 160.28L250.18 160.28L250.7 160.29L251.22 160.29L251.74 160.3L252.26 160.3L252.78 160.31L253.3 160.31L253.82 160.32L254.34 160.32L254.86 160.32L255.38 160.33L255.9 160.33" fill="none" stroke="#ee3cee" stroke-width="1.25"/>
<path d="M54.14 155.23L54.82 155.04L55.49 154.06L56.17 153.13L56.84 152.75L57.52 152.72L58.2 153.94L58.87 154.6L59.55 153.01L60.22 152.22L60.9 152.94L61.58 152.95L62.25 151.77L62.93 150.72L63.6 151.18L64.28 151.02L64.96 149.42L65.63 148.21L66.31 147.17L66.98 146.46L67.66 146.73L68.34 147.27L69.01 147.53L69.69 148.25L70.36 148.46L71.04 146.56L71.72 144.71L72.39 145.55L73.07 146.91L73.74 146.22L74.42 144.89L75.1 144.61L75.77 144.47L76.45 145.1L77.12 145.9L77.8 145.05L78.48 145.08L79.15 145.38L79.83 144.26L80.5 143.77L81.18 143.86L81.86 142.88L82.53 141.78L83.21 142.69L83.88 142.71L84.56 141.1L85.24 141.15L85.91 140.65L86.59 140.2L87.26 141.22L87.94 139.55L88.62 136.73L89.29 136.45L89.97 136.32L90.64 135.26L91.32 134.34L92 133.28L92.67 132.86L93.35 131.68L94.02 128.99L94.7 127.03L95.38 125.59L96.05 123.57L96.73 121.14L97.4 119.51L98.08 118.93L98.76 118.45L99.43 115.98L100.11 111.74L100.78 109.63L101.46 107.87L102.14 104.5L102.81 102.75L103.49 102.51L104.16 101.76L104.84 99.39L105.52 96.19L106.19 94.01L106.87 93.54L107.54 93.12L108.22 90.97L108.9 89.51L109.57 89.29L110.25 88.54L110.92 87.34L111.6 86.65L112.28 86.93L112.95 87.81L113.63 88.98L114.3 88.96L114.98 88.42L115.66 88.37L116.33 88.53L117.01 89.06L117.68 89.18L118.36 88.5L119.04 87.97L119.71 87.95L120.39 86.85L121.06 86.73L121.74 88.46L122.42 89.76L123.09 92.11L123.77 93.72L124.44 92.18L125.12 91.69L125.8 93.23L126.47 93.98L127.15 93.73L127.82 94.06L128.5 95.05L129.18 94.59L129.85 93.35L130.53 93.48L131.2 93.33L131.88 92.67L132.56 92.55L133.23 92.64L133.91 93.14L134.58 92.8L135.26 91.53L135.94 90.64L136.61 89.48L137.29 87.97L137.96 88.51L138.64 89.15L139.32 88.92L139.99 89.48L140.67 89.82L141.34 90.48L142.02 91.21L142.7 91.97L143.37 91.46L144.05 90.93L144.72 93.01L145.4 93.65L146.08 91.61L146.75 89.94L147.43 88.49L148.1 87.39L148.78 86.52L149.46 84.01L150.13 80.76L150.81 77.47L151.48 73.79L152.16 71.23L152.84 69.53L153.51 66.95L154.19 64.4L154.86 61.94L155.54 60.23L156.22 60.69L156.89 62.71L157.57 65.91L158.24 69.73L158.92 73.6L159.6 77.79L160.27 84.22L160.95 90.95L161.62 94.49L162.3 98.19L162.98 104.22L163.65 108.42L164.33 110.12L165 112.8L165.68 115.16L166.36 117.44L167.03 121.12L167.71 123.43L168.38 124.16L169.06 125.14L169.74 126.32L170.41 126.73L171.09 126.47L171.76 125.74L172.44 126.4L173.12 127.9L173.79 127.63L174.47 127.42L175.14 127.68L175.82 127.81L176.5 129.24L177.17 131.25L177.85 132.38L178.52 133.52L179.2 135.59L179.88 137.55L180.55 138.11L181.23 137.4L181.9 136.04L182.58 136.22L183.26 138.97L183.93 140.88L184.61 141.67L185.28 143.54L185.96 145.65L186.64 147.13L187.31 147.6L187.99 148.12L188.66 148.76L189.34 148.65L190.02 149.76L190.69 151.15L191.37 152.29L192.04 153.7L192.72 152.78L193.4 149.86L194.07 149.51L194.75 151.13L195.42 151.29L196.1 152.04L196.78 152.36L197.45 150.17L198.13 149.8L198.8 152.09L199.48 153.11L200.16 153L200.83 152.83L201.51 151.85L202.18 151.55L202.86 152.33L203.54 151.98L204.21 152.12L204.89 153.85L205.56 154.75L206.24 154.35L206.92 153.44L207.59 153.01L208.27 153.02L208.94 153.65L209.62 154.46L210.3 154.72L210.97 155.52L211.65 157.09L212.32 157.19L213 155.82L213.68 156.03L214.35 156.36L215.03 155.31L215.7 154.49L216.38 155.51L217.06 156.97L217.73 156.93L218.41 156.59L219.08 157.15L219.76 157.95L220.44 156.45L221.11 154.46L221.79 154.33L222.46 153.22L223.14 152.73L223.82 155.95L224.49 158.72L225.17 157.8L225.84 156.06L226.52 156.82L227.2 158.66L227.87 158.74L228.55 158.14L229.22 158.09L229.9 158.59L230.58 159.37L231.25 159.39L231.93 158.31L232.6 157.68L233.28 158.07L233.96 158.61L234.63 158.66L235.31 157.75L235.98 157.81L236.66 157.89L237.34 158.22L238.01 160.6L238.69 160.95L239.36 159.49L240.04 159.6L240.72 158.31L241.39 156.52L242.07 157.81L242.74 159.08L243.42 158.49L244.1 157.81L244.77 158.12L245.45 159.37L246.12 160.42L246.8 160.09L247.48 160.12L248.15 160.47L248.83 159.21L249.5 157.58L250.18 157.97L250.86 160.45L251.53 161.58L252.21 161.11L252.88 160.56L253.56 159.92L254.24 159.52L254.91 159.13L255.59 159.06" fill="none" stroke="#2a2a2a" stroke-width="1.2" stroke-dasharray="1.1 1.3"/>
<path d="M21.9 158.74L22.42 158.71L22.94 158.69L23.46 158.66L23.98 158.63L24.5 158.6L25.02 158.58L25.54 158.55L26.06 158.52L26.58 158.49L27.1 158.46L27.62 158.43L28.14 158.4L28.66 158.37L29.18 158.34L29.7 158.3L30.22 158.27L30.74 158.24L31.26 158.2L31.78 158.17L32.3 158.13L32.82 158.09L33.34 158.05L33.86 158.02L34.38 157.98L34.9 157.94L35.42 157.9L35.94 157.85L36.46 157.81L36.98 157.77L37.5 157.72L38.02 157.68L38.54 157.63L39.06 157.59L39.58 157.54L40.1 157.49L40.62 157.44L41.14 157.39L41.66 157.33L42.18 157.28L42.7 157.23L43.22 157.17L43.74 157.11L44.26 157.06L44.78 157L45.3 156.94L45.82 156.87L46.34 156.81L46.86 156.74L47.38 156.68L47.9 156.61L48.42 156.54L48.94 156.47L49.46 156.4L49.98 156.32L50.5 156.25L51.02 156.17L51.54 156.09L52.06 156.01L52.58 155.93L53.1 155.84L53.62 155.76L54.14 155.67L54.66 155.58L55.18 155.48L55.7 155.39L56.22 155.29L56.74 155.19L57.26 155.09L57.78 154.98L58.3 154.88L58.82 154.77L59.34 154.65L59.86 154.54L60.38 154.42L60.9 154.3L61.42 154.17L61.94 154.05L62.46 153.92L62.98 153.78L63.5 153.64L64.02 153.5L64.54 153.36L65.06 153.21L65.58 153.06L66.1 152.9L66.62 152.74L67.14 152.57L67.66 152.4L68.18 152.23L68.7 152.05L69.22 151.87L69.74 151.68L70.26 151.48L70.78 151.28L71.3 151.07L71.82 150.86L72.34 150.64L72.86 150.41L73.38 150.18L73.9 149.94L74.42 149.69L74.94 149.44L75.46 149.17L75.98 148.9L76.5 148.62L77.02 148.33L77.54 148.03L78.06 147.72L78.58 147.4L79.1 147.06L79.62 146.72L80.14 146.36L80.66 145.99L81.18 145.61L81.7 145.21L82.22 144.8L82.74 144.37L83.26 143.92L83.78 143.46L84.3 142.98L84.82 142.48L85.34 141.95L85.86 141.41L86.38 140.84L86.9 140.26L87.42 139.64L87.94 139L88.46 138.33L88.98 137.63L89.5 136.9L90.02 136.14L90.54 135.35L91.06 134.51L91.58 133.65L92.1 132.74L92.62 131.79L93.14 130.8L93.66 129.76L94.18 128.68L94.7 127.55L95.22 126.38L95.74 125.15L96.26 123.88L96.78 122.55L97.3 121.18L97.82 119.75L98.34 118.28L98.86 116.76L99.38 115.21L99.9 113.61L100.42 111.98L100.94 110.33L101.46 108.67L101.98 106.99L102.5 105.32L103.02 103.67L103.54 102.04L104.06 100.46L104.58 98.93L105.1 97.47L105.62 96.1L106.14 94.82L106.66 93.64L107.18 92.57L107.7 91.61L108.22 90.78L108.74 90.06L109.26 89.45L109.78 88.95L110.3 88.55L110.82 88.24L111.34 88.01L111.86 87.84L112.38 87.74L112.9 87.68L113.42 87.66L113.94 87.67L114.46 87.7L114.98 87.76L115.5 87.83L116.02 87.93L116.54 88.03L117.06 88.16L117.58 88.31L118.1 88.47L118.62 88.66L119.14 88.87L119.66 89.11L120.18 89.37L120.7 89.66L121.22 89.97L121.74 90.31L122.26 90.66L122.78 91.02L123.3 91.39L123.82 91.77L124.34 92.13L124.86 92.49L125.38 92.83L125.9 93.15L126.42 93.43L126.94 93.68L127.46 93.88L127.98 94.04L128.5 94.15L129.02 94.21L129.54 94.22L130.06 94.17L130.58 94.07L131.1 93.92L131.62 93.72L132.14 93.49L132.66 93.22L133.18 92.92L133.7 92.6L134.22 92.28L134.74 91.95L135.26 91.64L135.78 91.35L136.3 91.08L136.82 90.86L137.34 90.68L137.86 90.56L138.38 90.49L138.9 90.47L139.42 90.51L139.94 90.6L140.46 90.74L140.98 90.91L141.5 91.1L142.02 91.29L142.54 91.48L143.06 91.64L143.58 91.76L144.1 91.81L144.62 91.78L145.14 91.64L145.66 91.38L146.18 90.98L146.7 90.41L147.22 89.66L147.74 88.71L148.26 87.55L148.78 86.17L149.3 84.56L149.82 82.72L150.34 80.67L150.86 78.42L151.38 76.02L151.9 73.51L152.42 70.96L152.94 68.48L153.46 66.17L153.98 64.15L154.5 62.56L155.02 61.51L155.54 61.11L156.06 61.43L156.58 62.47L157.1 64.24L157.62 66.65L158.14 69.61L158.66 73.01L159.18 76.71L159.7 80.58L160.22 84.53L160.74 88.46L161.26 92.29L161.78 95.97L162.3 99.47L162.82 102.76L163.34 105.83L163.86 108.67L164.38 111.28L164.9 113.67L165.42 115.85L165.94 117.82L166.46 119.59L166.98 121.17L167.5 122.56L168.02 123.78L168.54 124.82L169.06 125.69L169.58 126.4L170.1 126.94L170.62 127.32L171.14 127.56L171.66 127.66L172.18 127.66L172.7 127.58L173.22 127.48L173.74 127.41L174.26 127.45L174.78 127.65L175.3 128.06L175.82 128.7L176.34 129.54L176.86 130.54L177.38 131.64L177.9 132.76L178.42 133.85L178.94 134.83L179.46 135.68L179.98 136.36L180.5 136.86L181.02 137.18L181.54 137.38L182.06 137.56L182.58 137.85L183.1 138.39L183.62 139.25L184.14 140.39L184.66 141.66L185.18 142.94L185.7 144.14L186.22 145.23L186.74 146.19L187.26 147.03L187.78 147.77L188.3 148.42L188.82 149L189.34 149.51L189.86 149.97L190.38 150.39L190.9 150.78L191.42 151.13L191.94 151.45L192.46 151.75L192.98 152.03L193.5 152.29L194.02 152.54L194.54 152.77L195.06 152.99L195.58 153.2L196.1 153.4L196.62 153.58L197.14 153.76L197.66 153.93L198.18 154.09L198.7 154.25L199.22 154.4L199.74 154.54L200.26 154.68L200.78 154.81L201.3 154.94L201.82 155.06L202.34 155.18L202.86 155.29L203.38 155.4L203.9 155.51L204.42 155.61L204.94 155.71L205.46 155.81L205.98 155.9L206.5 155.99L207.02 156.08L207.54 156.17L208.06 156.25L208.58 156.33L209.1 156.41L209.62 156.48L210.14 156.56L210.66 156.63L211.18 156.7L211.7 156.77L212.22 156.83L212.74 156.9L213.26 156.96L213.78 157.02L214.3 157.08L214.82 157.14L215.34 157.2L215.86 157.25L216.38 157.31L216.9 157.36L217.42 157.41L217.94 157.46L218.46 157.51L218.98 157.56L219.5 157.61L220.02 157.65L220.54 157.7L221.06 157.74L221.58 157.78L222.1 157.83L222.62 157.87L223.14 157.91L223.66 157.95L224.18 157.99L224.7 158.03L225.22 158.06L225.74 158.1L226.26 158.13L226.78 158.17L227.3 158.2L227.82 158.24L228.34 158.27L228.86 158.3L229.38 158.34L229.9 158.37L230.42 158.4L230.94 158.43L231.46 158.46L231.98 158.49L232.5 158.51L233.02 158.54L233.54 158.57L234.06 158.6L234.58 158.62L235.1 158.65L235.62 158.68L236.14 158.7L236.66 158.72L237.18 158.75L237.7 158.77L238.22 158.8L238.74 158.82L239.26 158.84L239.78 158.86L240.3 158.89L240.82 158.91L241.34 158.93L241.86 158.95L242.38 158.97L242.9 158.99L243.42 159.01L243.94 159.03L244.46 159.05L244.98 159.07L245.5 159.09L246.02 159.11L246.54 159.13L247.06 159.14L247.58 159.16L248.1 159.18L248.62 159.2L249.14 159.21L249.66 159.23L250.18 159.25L250.7 159.26L251.22 159.28L251.74 159.29L252.26 159.31L252.78 159.32L253.3 159.34L253.82 159.35L254.34 159.37L254.86 159.38L255.38 159.4L255.9 159.41" fill="none" stroke="#ee2a2a" stroke-width="2.2"/>
<line x1="21.9" y1="161" x2="21.9" y2="164.3" stroke="#242424" stroke-width="1.3"/>
<line x1="47.9" y1="161" x2="47.9" y2="164.3" stroke="#242424" stroke-width="1.3"/>
<line x1="73.9" y1="161" x2="73.9" y2="164.3" stroke="#242424" stroke-width="1.3"/>
<line x1="99.9" y1="161" x2="99.9" y2="164.3" stroke="#242424" stroke-width="1.3"/>
<line x1="125.9" y1="161" x2="125.9" y2="164.3" stroke="#242424" stroke-width="1.3"/>
<line x1="151.9" y1="161" x2="151.9" y2="164.3" stroke="#242424" stroke-width="1.3"/>
<line x1="177.9" y1="161" x2="177.9" y2="164.3" stroke="#242424" stroke-width="1.3"/>
<line x1="203.9" y1="161" x2="203.9" y2="164.3" stroke="#242424" stroke-width="1.3"/>
<line x1="229.9" y1="161" x2="229.9" y2="164.3" stroke="#242424" stroke-width="1.3"/>
<line x1="255.9" y1="161" x2="255.9" y2="164.3" stroke="#242424" stroke-width="1.3"/>
<text x="21.9" y="177.2" font-size="12.9" fill="#1a1a1a" text-anchor="middle" font-family="Liberation Sans, sans-serif" font-weight="bold" >300</text>
<text x="73.9" y="177.2" font-size="12.9" fill="#1a1a1a" text-anchor="middle" font-family="Liberation Sans, sans-serif" font-weight="bold" >400</text>
<text x="125.9" y="177.2" font-size="12.9" fill="#1a1a1a" text-anchor="middle" font-family="Liberation Sans, sans-serif" font-weight="bold" >500</text>
<text x="177.9" y="177.2" font-size="12.9" fill="#1a1a1a" text-anchor="middle" font-family="Liberation Sans, sans-serif" font-weight="bold" >600</text>
<text x="229.9" y="177.2" font-size="12.9" fill="#1a1a1a" text-anchor="middle" font-family="Liberation Sans, sans-serif" font-weight="bold" >700</text>
<text x="138" y="192.6" font-size="12.9" fill="#1a1a1a" text-anchor="middle" font-family="Liberation Sans, sans-serif" font-weight="bold" >Raman shift (cm<tspan font-size="7.6" dy="-5.2">-1</tspan><tspan dy="5.2">)</tspan></text>
<text transform="translate(12.4 83.2) rotate(-90)" font-size="13.1" fill="#1a1a1a" text-anchor="middle" font-family="Liberation Sans, sans-serif" font-weight="bold">Normalized intensity (a.u.)</text>
<text x="27.6" y="27.6" font-size="23" fill="#1a1a1a" text-anchor="start" font-family="Liberation Sans, sans-serif" font-weight="bold" >a</text>
<line x1="173.3" y1="31.7" x2="191.3" y2="31.7" stroke="#222" stroke-width="1.3" stroke-dasharray="1.3 1.3"/>
<text x="193.9" y="35" font-size="8.9" fill="#1a1a1a" text-anchor="start" font-family="Liberation Sans, sans-serif" font-weight="bold" >NCM_pristine</text>
<line x1="173.3" y1="41.9" x2="191.3" y2="41.9" stroke="#ee2a2a" stroke-width="2"/>
<text x="193.9" y="45.2" font-size="8.9" fill="#1a1a1a" text-anchor="start" font-family="Liberation Sans, sans-serif" font-weight="bold" >Fitting</text>
<text transform="translate(113.7 84) rotate(-90)" font-size="10.6" fill="#3c3c9a" font-family="Liberation Sans, sans-serif" font-weight="bold">465<tspan dx="5">E</tspan><tspan font-size="6" dy="3">g</tspan><tspan dy="-3">(Ni)</tspan></text>
<text transform="translate(128.2 84) rotate(-90)" font-size="10.6" fill="#4646dc" font-family="Liberation Sans, sans-serif" font-weight="bold">489<tspan dx="5">E</tspan><tspan font-size="6" dy="3">g</tspan><tspan dy="-3">(Co)</tspan></text>
<text transform="translate(143.2 85) rotate(-90)" font-size="10.6" fill="#ee30ee" font-family="Liberation Sans, sans-serif" font-weight="bold">525<tspan dx="5">A</tspan><tspan font-size="6" dy="3">1g</tspan><tspan dy="-3">(Co)</tspan></text>
<text transform="translate(160.4 60.8) rotate(-90)" font-size="10.2" fill="#a0a030" font-family="Liberation Sans, sans-serif" font-weight="bold">558<tspan dx="5">A</tspan><tspan font-size="6" dy="3">1g</tspan><tspan dy="-3">(Ni)</tspan></text>
<text transform="translate(178 120) rotate(-90)" font-size="10.2" fill="#2a9c48" font-family="Liberation Sans, sans-serif" font-weight="bold">595<tspan dx="5">E</tspan><tspan font-size="6" dy="3">g</tspan><tspan dy="-3">(Mn)</tspan></text>
<text transform="translate(190 134.8) rotate(-90)" font-size="10.2" fill="#f0a030" font-family="Liberation Sans, sans-serif" font-weight="bold">610<tspan dx="5">A</tspan><tspan font-size="6" dy="3">1g</tspan><tspan dy="-3">(Mn)</tspan></text>
</g>
<g id="pb">
<path d="M306.1 161.4L306.4 130L306.6 112.4L307 95L307.9 88L309.6 84.5L314.9 81.9L326.2 82.4L335 82.4L349 81L360 80.1L371 78L385 75.5L399.3 72.1L417.5 70.4L430 67L450 60L465 53.5L479 47.3L492.6 39.7L506.8 34.3L516.5 31.4L525 27L532.8 20.8" fill="none" stroke="#8c8c8c" stroke-width="1.6" stroke-linejoin="round"/>
<path d="M306.3 21.5L308 25L310 28.5L314.2 32.6L323.6 35.5L335 37.8L347 43L359 49.6L370 55.5L382.7 61.5L399.3 70.4L420 78L440 84L460 90.5L473.7 96.5L483 102L490.9 110.7L494.5 118L496.8 127.3L498.8 138L499.9 146.2L500.6 153L501.1 159" fill="none" stroke="#8c8c8c" stroke-width="1.6" stroke-linejoin="round"/>
<rect x="304.05" y="155.05" width="6.5" height="6.5" fill="none" stroke="#1a1a1a" stroke-width="2.3"/>
<rect x="306.1" y="157.5" width="2.4" height="1.6" fill="#1a1a1a" opacity="0.7"/>
<rect x="311.2" y="77.9" width="8" height="8" fill="none" stroke="#7a1a22" stroke-width="2.3"/>
<rect x="314" y="81.1" width="2.4" height="1.6" fill="#7a1a22" opacity="0.7"/>
<rect x="413.6" y="66.4" width="8" height="8" fill="none" stroke="#a82028" stroke-width="2.3"/>
<rect x="416.4" y="69.6" width="2.4" height="1.6" fill="#a82028" opacity="0.7"/>
<rect x="488.6" y="35.7" width="8" height="8" fill="none" stroke="#d82028" stroke-width="2.3"/>
<rect x="491.4" y="38.9" width="2.4" height="1.6" fill="#d82028" opacity="0.7"/>
<rect x="502.8" y="30.3" width="8" height="8" fill="none" stroke="#e62a2e" stroke-width="2.3"/>
<rect x="505.6" y="33.5" width="2.4" height="1.6" fill="#e62a2e" opacity="0.7"/>
<rect x="512.5" y="27.4" width="8" height="8" fill="none" stroke="#ec4a58" stroke-width="2.3"/>
<rect x="515.3" y="30.6" width="2.4" height="1.6" fill="#ec4a58" opacity="0.7"/>
<rect x="528.8" y="16.8" width="8" height="8" fill="none" stroke="#f290a8" stroke-width="2.3"/>
<rect x="531.6" y="20" width="2.4" height="1.6" fill="#f290a8" opacity="0.7"/>
<rect x="331" y="33.8" width="8" height="8" fill="none" stroke="#3fd2f2" stroke-width="2.3"/>
<rect x="333.8" y="37" width="2.4" height="1.6" fill="#3fd2f2" opacity="0.7"/>
<rect x="395.3" y="66.4" width="8" height="8" fill="none" stroke="#22c4e6" stroke-width="2.3"/>
<rect x="398.1" y="69.6" width="2.4" height="1.6" fill="#22c4e6" opacity="0.7"/>
<rect x="469.7" y="92.5" width="8" height="8" fill="none" stroke="#1eaac4" stroke-width="2.3"/>
<rect x="472.5" y="95.7" width="2.4" height="1.6" fill="#1eaac4" opacity="0.7"/>
<rect x="497.4" y="155" width="8" height="8" fill="none" stroke="#138a98" stroke-width="2.3"/>
<rect x="500.2" y="158.2" width="2.4" height="1.6" fill="#138a98" opacity="0.7"/>
<path d="M304.5 5.5H538.5V161.5H304.5Z" fill="none" stroke="#242424" stroke-width="1.7"/>
<line x1="301" y1="161.5" x2="304.5" y2="161.5" stroke="#242424" stroke-width="1.3"/>
<line x1="301" y1="150.71" x2="304.5" y2="150.71" stroke="#242424" stroke-width="1.3"/>
<line x1="301" y1="139.92" x2="304.5" y2="139.92" stroke="#242424" stroke-width="1.3"/>
<line x1="301" y1="129.13" x2="304.5" y2="129.13" stroke="#242424" stroke-width="1.3"/>
<line x1="301" y1="118.34" x2="304.5" y2="118.34" stroke="#242424" stroke-width="1.3"/>
<line x1="301" y1="107.55" x2="304.5" y2="107.55" stroke="#242424" stroke-width="1.3"/>
<line x1="301" y1="96.76" x2="304.5" y2="96.76" stroke="#242424" stroke-width="1.3"/>
<line x1="301" y1="85.97" x2="304.5" y2="85.97" stroke="#242424" stroke-width="1.3"/>
<line x1="301" y1="75.18" x2="304.5" y2="75.18" stroke="#242424" stroke-width="1.3"/>
<line x1="301" y1="64.39" x2="304.5" y2="64.39" stroke="#242424" stroke-width="1.3"/>
<line x1="301" y1="53.6" x2="304.5" y2="53.6" stroke="#242424" stroke-width="1.3"/>
<line x1="301" y1="42.81" x2="304.5" y2="42.81" stroke="#242424" stroke-width="1.3"/>
<line x1="301" y1="32.02" x2="304.5" y2="32.02" stroke="#242424" stroke-width="1.3"/>
<line x1="301" y1="21.23" x2="304.5" y2="21.23" stroke="#242424" stroke-width="1.3"/>
<line x1="301" y1="10.44" x2="304.5" y2="10.44" stroke="#242424" stroke-width="1.3"/>
<text x="299.4" y="165.8" font-size="13.2" fill="#1a1a1a" text-anchor="end" font-family="Liberation Sans, sans-serif" font-weight="bold" >3.0</text>
<text x="299.4" y="144.22" font-size="13.2" fill="#1a1a1a" text-anchor="end" font-family="Liberation Sans, sans-serif" font-weight="bold" >3.2</text>
<text x="299.4" y="122.64" font-size="13.2" fill="#1a1a1a" text-anchor="end" font-family="Liberation Sans, sans-serif" font-weight="bold" >3.4</text>
<text x="299.4" y="101.06" font-size="13.2" fill="#1a1a1a" text-anchor="end" font-family="Liberation Sans, sans-serif" font-weight="bold" >3.6</text>
<text x="299.4" y="79.48" font-size="13.2" fill="#1a1a1a" text-anchor="end" font-family="Liberation Sans, sans-serif" font-weight="bold" >3.8</text>
<text x="299.4" y="57.9" font-size="13.2" fill="#1a1a1a" text-anchor="end" font-family="Liberation Sans, sans-serif" font-weight="bold" >4.0</text>
<text x="299.4" y="36.32" font-size="13.2" fill="#1a1a1a" text-anchor="end" font-family="Liberation Sans, sans-serif" font-weight="bold" >4.2</text>
<text x="299.4" y="14.74" font-size="13.2" fill="#1a1a1a" text-anchor="end" font-family="Liberation Sans, sans-serif" font-weight="bold" >4.4</text>
<line x1="306.2" y1="161.5" x2="306.2" y2="164.6" stroke="#242424" stroke-width="1.3"/>
<line x1="329.43" y1="161.5" x2="329.43" y2="164.6" stroke="#242424" stroke-width="1.3"/>
<line x1="352.66" y1="161.5" x2="352.66" y2="164.6" stroke="#242424" stroke-width="1.3"/>
<line x1="375.89" y1="161.5" x2="375.89" y2="164.6" stroke="#242424" stroke-width="1.3"/>
<line x1="399.12" y1="161.5" x2="399.12" y2="164.6" stroke="#242424" stroke-width="1.3"/>
<line x1="422.35" y1="161.5" x2="422.35" y2="164.6" stroke="#242424" stroke-width="1.3"/>
<line x1="445.58" y1="161.5" x2="445.58" y2="164.6" stroke="#242424" stroke-width="1.3"/>
<line x1="468.81" y1="161.5" x2="468.81" y2="164.6" stroke="#242424" stroke-width="1.3"/>
<line x1="492.04" y1="161.5" x2="492.04" y2="164.6" stroke="#242424" stroke-width="1.3"/>
<line x1="515.27" y1="161.5" x2="515.27" y2="164.6" stroke="#242424" stroke-width="1.3"/>
<line x1="538.5" y1="161.5" x2="538.5" y2="164.6" stroke="#242424" stroke-width="1.3"/>
<text x="306.2" y="177.4" font-size="13.0" fill="#1a1a1a" text-anchor="middle" font-family="Liberation Sans, sans-serif" font-weight="bold" >0</text>
<text x="352.66" y="177.4" font-size="13.0" fill="#1a1a1a" text-anchor="middle" font-family="Liberation Sans, sans-serif" font-weight="bold" >50</text>
<text x="399.12" y="177.4" font-size="13.0" fill="#1a1a1a" text-anchor="middle" font-family="Liberation Sans, sans-serif" font-weight="bold" >100</text>
<text x="445.58" y="177.4" font-size="13.0" fill="#1a1a1a" text-anchor="middle" font-family="Liberation Sans, sans-serif" font-weight="bold" >150</text>
<text x="492.04" y="177.4" font-size="13.0" fill="#1a1a1a" text-anchor="middle" font-family="Liberation Sans, sans-serif" font-weight="bold" >200</text>
<text x="538.5" y="177.4" font-size="13.0" fill="#1a1a1a" text-anchor="middle" font-family="Liberation Sans, sans-serif" font-weight="bold" >250</text>
<text x="337.2" y="192.2" font-size="13.1" fill="#1a1a1a" text-anchor="start" font-family="Liberation Sans, sans-serif" font-weight="bold" >Specific capacity (mAh·g<tspan font-size="7.6" dy="-5.2">-1</tspan><tspan dy="5.2">)</tspan></text>
<text transform="translate(275.3 83) rotate(-90)" font-size="13.4" fill="#1a1a1a" text-anchor="middle" font-family="Liberation Sans, sans-serif" font-weight="bold">Voltage (V, vs. Li/Li<tspan font-size="7.6" dy="-5.2">+</tspan><tspan dy="5.2">)</tspan></text>
<text x="312.2" y="27.6" font-size="23" fill="#1a1a1a" text-anchor="start" font-family="Liberation Sans, sans-serif" font-weight="bold" >b</text>
<text x="384.4" y="16.6" font-size="10.2" fill="#1a1a1a" text-anchor="start" font-family="Liberation Sans, sans-serif" font-weight="bold" >3.0-4.3 V, 25 °C</text>
<line x1="356.5" y1="130" x2="373.8" y2="130" stroke="#8c8c8c" stroke-width="1.8"/>
<text x="377.1" y="133.7" font-size="10.3" fill="#1a1a1a" text-anchor="start" font-family="Liberation Sans, sans-serif" font-weight="bold" >NCM_0.2C/0.2C_1st</text>
</g>
<g id="pc">
<path d="M21.7 293.26L22.7 292.61L23.7 292.72L24.7 293.32L25.7 293.58L26.7 293.35L27.7 294.01L28.7 294.41L29.7 294L30.7 292.91L31.7 291.86L32.7 291.45L33.7 291.6L34.7 292.01L35.7 291.4L36.7 290.45L37.7 291.22L38.7 290.54L39.7 290.02L40.7 291.52L41.7 290.76L42.7 289.47L43.7 289.46L44.7 290.56L45.7 290.83L46.7 288.79L47.7 288.38L48.7 290.27L49.7 291.08L50.7 290.58L51.7 289.47L52.7 287.43L53.7 287.49L54.7 288.47L55.7 288.16L56.7 289.17L57.7 289L58.7 287.82L59.7 287.87L60.7 287.22L61.7 286.03L62.7 285.42L63.7 286.2L64.7 286.84L65.7 285.67L66.7 285.9L67.7 286.15L68.7 284.09L69.7 284.16L70.7 284.8L71.7 283.14L72.7 283.36L73.7 283.81L74.7 282.86L75.7 283.24L76.7 281.6L77.7 279.88L78.7 280.8L79.7 281.54L80.7 280.98L81.7 279.69L82.7 279.01L83.7 279.24L84.7 280.08L85.7 278.66L86.7 276.18L87.7 276.53L88.7 277.24L89.7 276.24L90.7 276.35L91.7 276.88L92.7 275.21L93.7 273.5L94.7 273.42L95.7 272.42L96.7 269.96L97.7 269.02L98.7 268.09L99.7 267.06L100.7 266.1L101.7 264.62L102.7 264.18L103.7 262.87L104.7 260.67L105.7 258.79L106.7 259.56L107.7 260.57L108.7 258.04L109.7 256.5L110.7 258.13L111.7 258.53L112.7 258.03L113.7 258.62L114.7 257.47L115.7 254.92L116.7 252.35L117.7 250.34L118.7 249.34L119.7 249.81L120.7 250.61L121.7 250.6L122.7 252.35L123.7 254.24L124.7 253.65L125.7 254.73L126.7 257.57L127.7 257.69L128.7 257.33L129.7 256.61L130.7 254.65L131.7 252.59L132.7 252.79L133.7 253.07L134.7 251.67L135.7 250.52L136.7 248.31L137.7 249.13L138.7 249.24L139.7 249.04L140.7 248.79L141.7 248.09L142.7 246.99L143.7 243.89L144.7 244.41L145.7 245.3L146.7 244.66L147.7 245.51L148.7 244.9L149.7 243.1L150.7 242.64L151.7 242.05L152.7 241.32L153.7 241.48L154.7 242.27L155.7 243.46L156.7 244.22L157.7 245.67L158.7 248.53L159.7 250.14L160.7 251.89L161.7 253.55L162.7 255.65L163.7 258.74L164.7 260.1L165.7 260.68L166.7 263.11L167.7 266.42L168.7 270.17L169.7 272.33L170.7 273.91L171.7 273.38L172.7 272.83L173.7 275.01L174.7 275.67L175.7 276.38L176.7 277.39L177.7 279.77L178.7 280.55L179.7 281.12L180.7 282.17L181.7 282.47L182.7 281.93L183.7 283.01L184.7 286.18L185.7 286.19L186.7 286.05L187.7 286.89L188.7 289.46L189.7 289.93L190.7 288.4L191.7 287.63L192.7 287.46L193.7 289.97L194.7 290.57L195.7 288.77L196.7 289.83L197.7 292.24L198.7 292.97L199.7 293.48L200.7 293.13L201.7 295.11L202.7 295.33L203.7 293.75L204.7 293.28L205.7 292.47L206.7 292.18L207.7 292.62L208.7 293.24L209.7 292.13L210.7 290.72L211.7 291.57L212.7 293.33L213.7 293.27L214.7 292.37L215.7 292.03L216.7 292.55L217.7 292.26L218.7 292.52L219.7 291.98L220.7 291.09L221.7 290.11L222.7 291.47L223.7 292.03L224.7 290.76L225.7 291.76L226.7 290.94L227.7 290.46L228.7 291.55L229.7 291.52L230.7 290.81L231.7 290.66L232.7 290.37L233.7 290.48L234.7 291.26L235.7 291.72L236.7 292.25L237.7 291.97L238.7 290.81L239.7 291.39L240.7 292.02L241.7 292.14L242.7 292.04L243.7 291.73L244.7 291.9L245.7 292.07L246.7 291.12L247.7 290.55L248.7 291.42L249.7 292.78L250.7 292.64L251.7 291.78L252.7 291.75L253.7 289.97L254.7 291.05" fill="none" stroke="#0f4d4f" stroke-width="1.5" stroke-linejoin="round"/>
<path d="M21.7 314.61L22.7 315.81L23.7 316.87L24.7 315.59L25.7 314.55L26.7 314.64L27.7 315.39L28.7 315.82L29.7 316.01L30.7 314.69L31.7 315.34L32.7 316.67L33.7 316L34.7 315.93L35.7 315.06L36.7 315.42L37.7 316.21L38.7 315.57L39.7 314.67L40.7 315.16L41.7 314.43L42.7 312.56L43.7 313.3L44.7 313.72L45.7 311.74L46.7 311.4L47.7 312.27L48.7 311.75L49.7 310.75L50.7 311.46L51.7 313.06L52.7 312.65L53.7 311.22L54.7 311.5L55.7 312.42L56.7 311.72L57.7 311.41L58.7 312.25L59.7 311.5L60.7 309.92L61.7 310.15L62.7 310.77L63.7 311.15L64.7 309.79L65.7 308.26L66.7 308.38L67.7 307.35L68.7 307.86L69.7 309.33L70.7 308.43L71.7 308.81L72.7 309.72L73.7 308.85L74.7 308.23L75.7 308.15L76.7 306.49L77.7 305.86L78.7 306.93L79.7 304.69L80.7 304.03L81.7 304.68L82.7 304.46L83.7 303.73L84.7 302.48L85.7 302.38L86.7 300.98L87.7 300.37L88.7 299.99L89.7 298.74L90.7 297.09L91.7 296.05L92.7 295.29L93.7 292.63L94.7 290.88L95.7 290.15L96.7 288.96L97.7 284.3L98.7 280.87L99.7 279.65L100.7 276.34L101.7 273.08L102.7 272.06L103.7 269.79L104.7 267.35L105.7 267.74L106.7 265.09L107.7 263.59L108.7 263.67L109.7 263.87L110.7 265.88L111.7 267.35L112.7 265.24L113.7 263.77L114.7 266.22L115.7 268.46L116.7 268.85L117.7 267.66L118.7 268.56L119.7 270.62L120.7 271.92L121.7 272.91L122.7 274.61L123.7 276.69L124.7 277.51L125.7 278.01L126.7 277.57L127.7 277.69L128.7 279.85L129.7 280.26L130.7 278.33L131.7 279.05L132.7 279.37L133.7 278.29L134.7 275.99L135.7 272.03L136.7 269.05L137.7 268.96L138.7 271.02L139.7 268.56L140.7 265.38L141.7 265.78L142.7 265.03L143.7 263.78L144.7 263.57L145.7 263.29L146.7 263.49L147.7 262.52L148.7 262.01L149.7 261.87L150.7 261.94L151.7 261.4L152.7 260.98L153.7 264.2L154.7 265.84L155.7 266.9L156.7 269.28L157.7 271.58L158.7 273.64L159.7 275.46L160.7 277.19L161.7 278.46L162.7 280.47L163.7 282.85L164.7 285L165.7 287.57L166.7 290.91L167.7 293.76L168.7 295.27L169.7 294.62L170.7 295.44L171.7 297.48L172.7 298.71L173.7 299.43L174.7 298.81L175.7 298.75L176.7 301.83L177.7 304.08L178.7 305.04L179.7 307.09L180.7 306.2L181.7 306.1L182.7 308.34L183.7 309.73L184.7 310.97L185.7 311.75L186.7 312.32L187.7 311.63L188.7 311.73L189.7 312.61L190.7 313.09L191.7 313.53L192.7 314.1L193.7 315.24L194.7 315.15L195.7 314.89L196.7 314.83L197.7 314.34L198.7 314.22L199.7 314.26L200.7 314.74L201.7 315.19L202.7 315.4L203.7 314.44L204.7 314.73L205.7 315.21L206.7 314.03L207.7 314.51L208.7 314.68L209.7 315.1L210.7 315.13L211.7 314.14L212.7 313.97L213.7 315.81L214.7 316.52L215.7 314.68L216.7 314.68L217.7 314.42L218.7 315.8L219.7 315.86L220.7 314.9L221.7 316.5L222.7 315.06L223.7 314.91L224.7 316.79L225.7 316.94L226.7 316.41L227.7 316.8L228.7 316.74L229.7 316.3L230.7 316.1L231.7 316.34L232.7 315.74L233.7 315.88L234.7 316.23L235.7 314.81L236.7 315.48L237.7 317.6L238.7 318.07L239.7 316.4L240.7 316.21L241.7 316.26L242.7 315.64L243.7 316.06L244.7 314.4L245.7 314.48L246.7 315.45L247.7 314.78L248.7 314.44L249.7 313.81L250.7 314.21L251.7 315.98L252.7 317.95L253.7 317.3L254.7 316.85" fill="none" stroke="#1a9fb4" stroke-width="1.5" stroke-linejoin="round"/>
<path d="M21.7 340.7L22.7 341.51L23.7 342.1L24.7 341.88L25.7 342.53L26.7 341.13L27.7 339.48L28.7 339.38L29.7 339.74L30.7 341.41L31.7 341.44L32.7 341.05L33.7 339.65L34.7 339.37L35.7 340.08L36.7 341.26L37.7 342.56L38.7 341.84L39.7 340.89L40.7 340.25L41.7 340.26L42.7 338.98L43.7 337.49L44.7 336.96L45.7 336.17L46.7 335.11L47.7 334.66L48.7 333.93L49.7 334.12L50.7 333L51.7 332.67L52.7 333.14L53.7 331.99L54.7 331.34L55.7 331.53L56.7 332.24L57.7 332.4L58.7 332.11L59.7 331.96L60.7 333.58L61.7 333.71L62.7 331.84L63.7 332.09L64.7 332.24L65.7 331.75L66.7 332.02L67.7 331.01L68.7 328.83L69.7 328.5L70.7 329.94L71.7 329.52L72.7 329.04L73.7 329.61L74.7 328.48L75.7 328.24L76.7 329.41L77.7 328.89L78.7 328.17L79.7 327.81L80.7 328.28L81.7 327.32L82.7 325.37L83.7 325.36L84.7 324.33L85.7 322.34L86.7 321.86L87.7 322.66L88.7 322.92L89.7 320.61L90.7 317.65L91.7 317.01L92.7 316.47L93.7 314.71L94.7 313.24L95.7 311.98L96.7 309.44L97.7 306.72L98.7 303L99.7 298.6L100.7 296.41L101.7 294.8L102.7 292.7L103.7 290.83L104.7 289.3L105.7 288.17L106.7 285.39L107.7 283.76L108.7 285.33L109.7 286.49L110.7 285.35L111.7 286.06L112.7 287.05L113.7 286.07L114.7 286.66L115.7 287.47L116.7 286.31L117.7 287.16L118.7 290.29L119.7 291.46L120.7 293.16L121.7 293.73L122.7 295L123.7 298.19L124.7 299.5L125.7 300.33L126.7 301.78L127.7 303.01L128.7 304.76L129.7 305.5L130.7 305.24L131.7 306.16L132.7 308.18L133.7 307.63L134.7 306.12L135.7 304.34L136.7 303.7L137.7 303.87L138.7 302.32L139.7 300.31L140.7 296.89L141.7 295.65L142.7 294.95L143.7 291.74L144.7 288.42L145.7 288.04L146.7 287.71L147.7 288.07L148.7 286.67L149.7 283.54L150.7 283.39L151.7 282.43L152.7 281.87L153.7 284.38L154.7 285.23L155.7 284.23L156.7 286.16L157.7 289.92L158.7 293.44L159.7 295.12L160.7 296.16L161.7 297.98L162.7 300.38L163.7 301.65L164.7 303.94L165.7 305.08L166.7 305.86L167.7 309.28L168.7 312.07L169.7 313.21L170.7 315.23L171.7 318.37L172.7 319.62L173.7 319.65L174.7 320.47L175.7 321.18L176.7 320.28L177.7 320.23L178.7 322.42L179.7 322.23L180.7 321.88L181.7 323.03L182.7 322.96L183.7 323.17L184.7 324.59L185.7 326.25L186.7 327.1L187.7 326.51L188.7 326.74L189.7 328.69L190.7 330.2L191.7 331L192.7 331.46L193.7 332.31L194.7 332.83L195.7 331.96L196.7 331.92L197.7 332.49L198.7 331.2L199.7 330.96L200.7 334.66L201.7 335.49L202.7 332.72L203.7 333.46L204.7 336.53L205.7 337.22L206.7 336.71L207.7 336.84L208.7 336.78L209.7 338.18L210.7 339.1L211.7 338.37L212.7 338.69L213.7 339.77L214.7 339.18L215.7 338.78L216.7 339.3L217.7 338.75L218.7 339.52L219.7 339.97L220.7 338.73L221.7 337.69L222.7 337.27L223.7 339.65L224.7 339.78L225.7 339.03L226.7 339.63L227.7 339.73L228.7 340.48L229.7 339.57L230.7 338.95L231.7 339.62L232.7 339.94L233.7 339.87L234.7 339.58L235.7 340.08L236.7 341.28L237.7 341.23L238.7 339.74L239.7 339.64L240.7 340.22L241.7 340.27L242.7 341.57L243.7 341.07L244.7 339.71L245.7 339.2L246.7 338.98L247.7 339.19L248.7 340.55L249.7 341.16L250.7 339.54L251.7 340.7L252.7 340.11L253.7 339.29L254.7 340.95" fill="none" stroke="#22bfe2" stroke-width="1.5" stroke-linejoin="round"/>
<path d="M21.7 366.16L22.7 364.49L23.7 364.22L24.7 366.53L25.7 367L26.7 367.41L27.7 367.93L28.7 367.85L29.7 366.47L30.7 366.93L31.7 367.64L32.7 367.1L33.7 366.72L34.7 367.46L35.7 368.1L36.7 367.33L37.7 366.63L38.7 365.64L39.7 366.67L40.7 367.27L41.7 366.52L42.7 366.34L43.7 366.12L44.7 366.23L45.7 364.6L46.7 364.07L47.7 362.86L48.7 362.47L49.7 361.94L50.7 361.2L51.7 362.74L52.7 362.56L53.7 361.56L54.7 360.83L55.7 360.8L56.7 361.97L57.7 362.73L58.7 361.83L59.7 360.39L60.7 360.94L61.7 360.72L62.7 359.84L63.7 360.17L64.7 360.84L65.7 361.3L66.7 360.92L67.7 360.72L68.7 359.75L69.7 359.68L70.7 360.78L71.7 360.15L72.7 359.38L73.7 359.05L74.7 359.04L75.7 359.28L76.7 358.92L77.7 358.45L78.7 358.7L79.7 357.99L80.7 356.43L81.7 355.96L82.7 356.22L83.7 355.81L84.7 354.55L85.7 354.94L86.7 355.57L87.7 354.83L88.7 351.51L89.7 349.45L90.7 349L91.7 346.72L92.7 344.73L93.7 344.32L94.7 342.26L95.7 338.28L96.7 336.5L97.7 334.67L98.7 332.04L99.7 329.32L100.7 327.01L101.7 325.44L102.7 321.79L103.7 317.76L104.7 316.36L105.7 314.52L106.7 310.55L107.7 307.53L108.7 307.47L109.7 307.89L110.7 308.72L111.7 311.7L112.7 313.09L113.7 313.59L114.7 313.68L115.7 312.8L116.7 313.07L117.7 311.25L118.7 310.22L119.7 315.03L120.7 321.36L121.7 326.52L122.7 326.88L123.7 324.29L124.7 323.22L125.7 324.93L126.7 328.78L127.7 335.81L128.7 339.52L129.7 339.06L130.7 338.87L131.7 338.52L132.7 338.19L133.7 336.48L134.7 334.84L135.7 334.07L136.7 332.07L137.7 329.15L138.7 326.99L139.7 326.02L140.7 324.07L141.7 319.95L142.7 317.27L143.7 317.04L144.7 314.47L145.7 310.35L146.7 308.25L147.7 306.5L148.7 305.12L149.7 304.54L150.7 304.58L151.7 303.34L152.7 305.69L153.7 308.69L154.7 308.46L155.7 309.37L156.7 310.79L157.7 314.29L158.7 317.94L159.7 321.15L160.7 323.87L161.7 327.1L162.7 332.8L163.7 335.83L164.7 338.11L165.7 340.57L166.7 342.54L167.7 344.78L168.7 345.5L169.7 345.71L170.7 347.04L171.7 348.54L172.7 349.05L173.7 350.43L174.7 352.26L175.7 352.57L176.7 353.4L177.7 357.04L178.7 358.78L179.7 358.03L180.7 360.15L181.7 360.72L182.7 358.3L183.7 358.04L184.7 359.26L185.7 361.2L186.7 363.29L187.7 362.14L188.7 362.6L189.7 363.55L190.7 363.28L191.7 364.63L192.7 364.97L193.7 364.87L194.7 364.88L195.7 364.3L196.7 364.52L197.7 366.03L198.7 366.59L199.7 367.78L200.7 368.01L201.7 366.9L202.7 367.4L203.7 367.19L204.7 365.38L205.7 363.86L206.7 365.61L207.7 367.51L208.7 367.29L209.7 366.76L210.7 366.47L211.7 367.93L212.7 367.93L213.7 366.06L214.7 365.75L215.7 367.63L216.7 367.48L217.7 365.17L218.7 364.58L219.7 365.47L220.7 367.45L221.7 368.35L222.7 367.3L223.7 366.38L224.7 366.76L225.7 367.46L226.7 367.14L227.7 367.05L228.7 366.89L229.7 368.19L230.7 367.12L231.7 366L232.7 366.84L233.7 367.19L234.7 367.66L235.7 367.41L236.7 367.87L237.7 367.73L238.7 367.99L239.7 366.91L240.7 366.84L241.7 367.56L242.7 367.15L243.7 368.25L244.7 368.68L245.7 368.91L246.7 366.67L247.7 364.7L248.7 366.73L249.7 366.55L250.7 365.74L251.7 367.52L252.7 368.13L253.7 366.32L254.7 365.97" fill="none" stroke="#46d4f4" stroke-width="1.5" stroke-linejoin="round"/>
<path d="M21.7 419.15L22.7 417.26L23.7 414.62L24.7 412.41L25.7 412.69L26.7 415.28L27.7 415.22L28.7 414.44L29.7 415.01L30.7 413.91L31.7 415.06L32.7 415.06L33.7 413.58L34.7 417.27L35.7 418.53L36.7 418.45L37.7 419.88L38.7 421.29L39.7 420.52L40.7 419.67L41.7 422.14L42.7 422.27L43.7 420.22L44.7 419.6L45.7 419.28L46.7 418.28L47.7 417.55L48.7 415.4L49.7 414.64L50.7 414.69L51.7 414.29L52.7 414.37L53.7 412.77L54.7 412.48L55.7 412.25L56.7 412.85L57.7 413.39L58.7 413.1L59.7 412.15L60.7 412.56L61.7 413L62.7 412.65L63.7 413.32L64.7 411.32L65.7 410.71L66.7 410.88L67.7 410.66L68.7 411.79L69.7 411.63L70.7 410.97L71.7 409.16L72.7 408.05L73.7 408.64L74.7 408.72L75.7 407.38L76.7 406.33L77.7 406.38L78.7 404.07L79.7 402.13L80.7 402.57L81.7 401.34L82.7 398.88L83.7 399.09L84.7 398.84L85.7 396.61L86.7 394.87L87.7 392.91L88.7 390.48L89.7 388.43L90.7 387.15L91.7 386.56L92.7 384.05L93.7 381.1L94.7 379.27L95.7 376.24L96.7 374.24L97.7 373.21L98.7 369.43L99.7 366.06L100.7 362.58L101.7 358.83L102.7 355.65L103.7 349.72L104.7 342.73L105.7 337.64L106.7 332.57L107.7 326.61L108.7 323.1L109.7 322.31L110.7 321.9L111.7 322.25L112.7 323.58L113.7 326.14L114.7 328.64L115.7 329.93L116.7 326.2L117.7 322.75L118.7 325.58L119.7 330.93L120.7 338.25L121.7 344.65L122.7 347.84L123.7 351.19L124.7 355.03L125.7 358.87L126.7 361.39L127.7 364.08L128.7 365.89L129.7 366.62L130.7 367.71L131.7 370.07L132.7 371.84L133.7 371.78L134.7 374.49L135.7 376.09L136.7 375.68L137.7 376.6L138.7 375.08L139.7 371.97L140.7 368.53L141.7 365.33L142.7 363.05L143.7 359.02L144.7 355.96L145.7 352.04L146.7 346.44L147.7 342.79L148.7 340.8L149.7 339.29L150.7 337.78L151.7 338.65L152.7 341.91L153.7 344.21L154.7 345.61L155.7 350.28L156.7 356.64L157.7 361.02L158.7 364.29L159.7 366.03L160.7 368.27L161.7 372.05L162.7 375.26L163.7 379.25L164.7 384.18L165.7 388.4L166.7 393.2L167.7 396.68L168.7 398.16L169.7 400.81L170.7 402.18L171.7 400.21L172.7 400.18L173.7 401.41L174.7 400.7L175.7 401.63L176.7 402.99L177.7 404.71L178.7 404.51L179.7 404.14L180.7 406.02L181.7 405.79L182.7 407.39L183.7 410.55L184.7 409.68L185.7 409.07L186.7 409.7L187.7 409.99L188.7 410.08L189.7 410.92L190.7 411.06L191.7 412.05L192.7 413.88L193.7 415.44L194.7 414.77L195.7 413.71L196.7 414.69L197.7 415.27L198.7 416.98L199.7 416.67L200.7 415.46L201.7 415L202.7 416.35L203.7 418.67L204.7 419.47L205.7 418.64L206.7 417.15L207.7 416.91L208.7 416.56L209.7 415.7L210.7 417.61L211.7 418.56L212.7 418.01L213.7 418L214.7 418.73L215.7 419.98L216.7 418.43L217.7 417.1L218.7 417.17L219.7 418.39L220.7 419.8L221.7 418.61L222.7 419.38L223.7 419.6L224.7 417.02L225.7 415.5L226.7 416.28L227.7 417.99L228.7 417.66L229.7 417.68L230.7 418.97L231.7 418.65L232.7 418.37L233.7 419.61L234.7 419.32L235.7 417.64L236.7 417.56L237.7 418.33L238.7 419.54L239.7 418.78L240.7 416.02L241.7 416.5L242.7 417.82L243.7 417.24L244.7 417.35L245.7 417.82L246.7 418.23L247.7 417.31L248.7 415.84L249.7 416.36L250.7 416.42L251.7 417.3L252.7 418.01L253.7 416.98L254.7 417.6" fill="none" stroke="#f0809a" stroke-width="1.5" stroke-linejoin="round"/>
<path d="M21.7 441.22L22.7 440.41L23.7 441.39L24.7 441.45L25.7 441.34L26.7 442.01L27.7 440.55L28.7 440.5L29.7 440.87L30.7 441.4L31.7 442.08L32.7 440.23L33.7 439.73L34.7 440.07L35.7 440.02L36.7 440.65L37.7 440.66L38.7 440.73L39.7 440.69L40.7 439.41L41.7 437.94L42.7 436.98L43.7 438.03L44.7 439.43L45.7 440.18L46.7 439.29L47.7 438.37L48.7 438.21L49.7 437.85L50.7 436.87L51.7 437.59L52.7 438.57L53.7 438.01L54.7 438.73L55.7 438.96L56.7 437.79L57.7 438.51L58.7 439.8L59.7 439.09L60.7 438.11L61.7 436.69L62.7 435.98L63.7 436.8L64.7 437.84L65.7 437.36L66.7 438.25L67.7 438.67L68.7 437.87L69.7 437.96L70.7 436.31L71.7 436.01L72.7 436.62L73.7 434.76L74.7 434.52L75.7 435.6L76.7 435.32L77.7 434.84L78.7 432.83L79.7 431.51L80.7 431.59L81.7 431.28L82.7 431.13L83.7 431.18L84.7 430.87L85.7 428.8L86.7 428L87.7 428.59L88.7 427.13L89.7 423.93L90.7 421.89L91.7 420.91L92.7 418.13L93.7 415.82L94.7 413.61L95.7 411.8L96.7 410.79L97.7 408.12L98.7 404.72L99.7 402.51L100.7 399.93L101.7 394.82L102.7 390.09L103.7 384.2L104.7 378.09L105.7 374.98L106.7 372.81L107.7 369.46L108.7 365.69L109.7 364.06L110.7 362.92L111.7 363.57L112.7 366.28L113.7 366.06L114.7 366.41L115.7 367.54L116.7 368.93L117.7 372.76L118.7 375.39L119.7 377.77L120.7 381.39L121.7 383.93L122.7 386.93L123.7 390.92L124.7 393.68L125.7 396.51L126.7 400.38L127.7 401.48L128.7 401.21L129.7 400.86L130.7 402.3L131.7 405.07L132.7 405.38L133.7 406.15L134.7 406.6L135.7 405.14L136.7 403.18L137.7 400.9L138.7 399.62L139.7 399.03L140.7 397.38L141.7 395.17L142.7 392.86L143.7 391L144.7 387.27L145.7 383.25L146.7 379.47L147.7 374.75L148.7 370.95L149.7 368.64L150.7 367.49L151.7 367.24L152.7 369.93L153.7 373.34L154.7 375.31L155.7 377.48L156.7 380.03L157.7 385.03L158.7 389.95L159.7 395.01L160.7 401.5L161.7 403.86L162.7 405.25L163.7 409.08L164.7 412.21L165.7 413.2L166.7 414.43L167.7 416.28L168.7 417.48L169.7 419.65L170.7 421.51L171.7 423.2L172.7 424.51L173.7 425.73L174.7 425.78L175.7 426.01L176.7 426.5L177.7 425.97L178.7 426.75L179.7 428.98L180.7 430.68L181.7 429.83L182.7 431.21L183.7 433.53L184.7 433.18L185.7 432.97L186.7 433.63L187.7 433.5L188.7 435.48L189.7 436.4L190.7 435.16L191.7 435.64L192.7 435.7L193.7 435.68L194.7 436.67L195.7 436.79L196.7 436.24L197.7 436.85L198.7 438.39L199.7 438.62L200.7 437.8L201.7 438.99L202.7 439.2L203.7 439.04L204.7 440.56L205.7 441.17L206.7 440.68L207.7 441.37L208.7 440.97L209.7 439.42L210.7 438.33L211.7 438.48L212.7 439.73L213.7 438.98L214.7 439.49L215.7 440.31L216.7 439.45L217.7 437.82L218.7 437.28L219.7 438.24L220.7 436.74L221.7 436.5L222.7 437.68L223.7 436.59L224.7 437.08L225.7 439.55L226.7 439.74L227.7 437.88L228.7 437.25L229.7 438.56L230.7 438.21L231.7 437.75L232.7 438.34L233.7 438.26L234.7 439.35L235.7 438.3L236.7 438.03L237.7 439.24L238.7 438.48L239.7 437.29L240.7 437.61L241.7 438.5L242.7 436.47L243.7 435.92L244.7 437.14L245.7 437.46L246.7 437.94L247.7 438.16L248.7 439.68L249.7 441.03L250.7 440.09L251.7 440.44L252.7 442.02L253.7 441.58L254.7 439.5" fill="none" stroke="#ea4a52" stroke-width="1.5" stroke-linejoin="round"/>
<path d="M21.7 465.38L22.7 465.67L23.7 466.66L24.7 466.8L25.7 467.2L26.7 466.1L27.7 465.1L28.7 464.99L29.7 463.52L30.7 463.17L31.7 464.13L32.7 463.87L33.7 463.54L34.7 464.83L35.7 465.26L36.7 464.78L37.7 464.54L38.7 463.94L39.7 462.34L40.7 463.06L41.7 463.24L42.7 462.64L43.7 463.53L44.7 463.41L45.7 463.58L46.7 463.19L47.7 463.57L48.7 462.85L49.7 462.71L50.7 462.36L51.7 462.56L52.7 463.31L53.7 462.68L54.7 463.99L55.7 462.18L56.7 460.86L57.7 462.66L58.7 463.42L59.7 463.88L60.7 463.6L61.7 462.94L62.7 462.51L63.7 462.26L64.7 462.13L65.7 462.49L66.7 462.38L67.7 461.97L68.7 462.75L69.7 462.86L70.7 461.27L71.7 460.13L72.7 460.58L73.7 459.92L74.7 457.87L75.7 457.31L76.7 458.63L77.7 458.88L78.7 457.96L79.7 458.32L80.7 457.56L81.7 458.33L82.7 458.86L83.7 456.91L84.7 458.14L85.7 457.45L86.7 455.51L87.7 455.94L88.7 455.28L89.7 454.67L90.7 455L91.7 453.99L92.7 451.74L93.7 450.22L94.7 449.41L95.7 447.82L96.7 443.35L97.7 441.51L98.7 441.69L99.7 439.11L100.7 435.81L101.7 432.94L102.7 430.87L103.7 427.07L104.7 424.25L105.7 421.8L106.7 416.53L107.7 409.91L108.7 406.59L109.7 405.84L110.7 404.41L111.7 402.19L112.7 401.47L113.7 400.23L114.7 398.83L115.7 397.38L116.7 397.31L117.7 400.74L118.7 403.44L119.7 410.7L120.7 415.05L121.7 416.67L122.7 419.58L123.7 422.49L124.7 425.85L125.7 429.29L126.7 431.26L127.7 432.36L128.7 434.22L129.7 438.62L130.7 440.4L131.7 439.29L132.7 438.87L133.7 438.89L134.7 439.55L135.7 439.42L136.7 438.76L137.7 438.29L138.7 437.31L139.7 436.32L140.7 433.96L141.7 431.14L142.7 429.56L143.7 425.84L144.7 422.77L145.7 420.2L146.7 415.2L147.7 410.39L148.7 406.78L149.7 403.32L150.7 401.04L151.7 399.52L152.7 399.93L153.7 403.71L154.7 406.24L155.7 406.82L156.7 408.53L157.7 410.59L158.7 413.09L159.7 416.08L160.7 419.59L161.7 421.33L162.7 422.77L163.7 426.13L164.7 428.68L165.7 430.84L166.7 434.67L167.7 437.23L168.7 438.04L169.7 440.76L170.7 442.8L171.7 445.18L172.7 445.63L173.7 445.74L174.7 447.67L175.7 449.15L176.7 451.42L177.7 452.21L178.7 451.22L179.7 452.41L180.7 453.65L181.7 454.56L182.7 455.91L183.7 457.34L184.7 457.95L185.7 456.3L186.7 456.53L187.7 458.16L188.7 458.32L189.7 457.93L190.7 458.09L191.7 458.26L192.7 458.24L193.7 459.79L194.7 461.13L195.7 459.76L196.7 460.67L197.7 462.1L198.7 461.97L199.7 462.5L200.7 463.6L201.7 462.4L202.7 462.01L203.7 464.42L204.7 464.91L205.7 463.97L206.7 463.71L207.7 465.43L208.7 467.57L209.7 466.19L210.7 464.75L211.7 466.14L212.7 466.49L213.7 466.39L214.7 466.74L215.7 466.62L216.7 464.55L217.7 463.6L218.7 463.69L219.7 463.81L220.7 465.6L221.7 466.31L222.7 466.87L223.7 467.12L224.7 466.28L225.7 466.05L226.7 464.85L227.7 464.06L228.7 464.94L229.7 465.57L230.7 465.59L231.7 464.45L232.7 463.33L233.7 463.21L234.7 465.24L235.7 465.97L236.7 465.31L237.7 465.38L238.7 464.74L239.7 464.66L240.7 464.57L241.7 464.84L242.7 465.72L243.7 464.86L244.7 464.41L245.7 465.17L246.7 464.93L247.7 465.68L248.7 467.18L249.7 465.92L250.7 465.05L251.7 466.83L252.7 467.45L253.7 465.75L254.7 465.66" fill="none" stroke="#e42a2c" stroke-width="1.5" stroke-linejoin="round"/>
<path d="M21.7 490.85L22.7 490.91L23.7 489.48L24.7 488.07L25.7 486.86L26.7 487.65L27.7 488.3L28.7 487.45L29.7 487.73L30.7 488.19L31.7 486.46L32.7 487.05L33.7 487.08L34.7 487.64L35.7 489.49L36.7 487.57L37.7 488L38.7 488.24L39.7 487.61L40.7 487.55L41.7 487.74L42.7 488.35L43.7 486.75L44.7 485.42L45.7 486.34L46.7 486.64L47.7 484.65L48.7 486.38L49.7 486.5L50.7 483.42L51.7 484.15L52.7 486.22L53.7 488.6L54.7 488.04L55.7 486.42L56.7 486.76L57.7 486.8L58.7 486.73L59.7 486.13L60.7 486.36L61.7 487.46L62.7 485.18L63.7 484.68L64.7 486.51L65.7 486.87L66.7 485.97L67.7 484.37L68.7 484.09L69.7 485.33L70.7 485.22L71.7 484.02L72.7 485.32L73.7 485.08L74.7 483.3L75.7 483.59L76.7 484.17L77.7 484.77L78.7 483.67L79.7 481.41L80.7 481.63L81.7 482.76L82.7 481.04L83.7 479.46L84.7 480.12L85.7 480.09L86.7 479.35L87.7 478.33L88.7 476.91L89.7 475.57L90.7 476.08L91.7 474.76L92.7 473.51L93.7 472L94.7 471.92L95.7 470.11L96.7 467.37L97.7 465.99L98.7 462.38L99.7 460.28L100.7 456.49L101.7 454.67L102.7 451.95L103.7 446.48L104.7 444.24L105.7 443.45L106.7 440.31L107.7 438.92L108.7 438.54L109.7 437.64L110.7 437.52L111.7 437.22L112.7 437.84L113.7 440.53L114.7 442.95L115.7 442.2L116.7 440.91L117.7 438.98L118.7 435.99L119.7 436.03L120.7 437.09L121.7 440.54L122.7 447.34L123.7 450.89L124.7 453.24L125.7 456.1L126.7 456.81L127.7 456.78L128.7 457.93L129.7 458.79L130.7 458.3L131.7 457.44L132.7 457.94L133.7 459.67L134.7 459.12L135.7 458.27L136.7 457.93L137.7 455.89L138.7 452.56L139.7 451.72L140.7 451.64L141.7 447.95L142.7 446.08L143.7 444.87L144.7 442.66L145.7 439.92L146.7 437.22L147.7 434.78L148.7 433.25L149.7 432.17L150.7 429.71L151.7 430.17L152.7 432.35L153.7 433.58L154.7 434.34L155.7 437.25L156.7 439.81L157.7 442.82L158.7 445.87L159.7 447.87L160.7 451.52L161.7 454.6L162.7 459.58L163.7 462.14L164.7 464.58L165.7 467.78L166.7 467.29L167.7 469.16L168.7 471.62L169.7 472.55L170.7 471.94L171.7 472.51L172.7 474.01L173.7 474.18L174.7 474.96L175.7 475.61L176.7 477.39L177.7 478.11L178.7 475.97L179.7 477.15L180.7 479.2L181.7 479.02L182.7 478.29L183.7 479.27L184.7 481.08L185.7 482.34L186.7 483.91L187.7 484.65L188.7 484.84L189.7 483.62L190.7 485.4L191.7 487.81L192.7 487.46L193.7 487.28L194.7 487.32L195.7 486.78L196.7 486.85L197.7 488.37L198.7 490.66L199.7 491.19L200.7 491.29L201.7 490.24L202.7 490.02L203.7 490.5L204.7 490.68L205.7 491.95L206.7 490.9L207.7 490.11L208.7 491.07L209.7 490.43L210.7 487.94L211.7 489.25L212.7 492.64L213.7 490.66L214.7 489.24L215.7 489.86L216.7 489.55L217.7 489.74L218.7 490.67L219.7 491.04L220.7 490.24L221.7 489.84L222.7 490.55L223.7 491L224.7 490.16L225.7 490.5L226.7 489.7L227.7 489.75L228.7 489.63L229.7 489.49L230.7 490.56L231.7 490.42L232.7 490.45L233.7 490.24L234.7 490.79L235.7 491.31L236.7 490.57L237.7 490.4L238.7 490.25L239.7 490.33L240.7 490.61L241.7 489.34L242.7 490.83L243.7 491.87L244.7 490.11L245.7 490.67L246.7 489.6L247.7 489.07L248.7 490.89L249.7 490.99L250.7 490.8L251.7 490.66L252.7 490.33L253.7 490.64L254.7 491.03" fill="none" stroke="#d22428" stroke-width="1.5" stroke-linejoin="round"/>
<path d="M21.7 514.31L22.7 513.31L23.7 513.91L24.7 513.74L25.7 514.5L26.7 515.76L27.7 513.89L28.7 513.45L29.7 514.68L30.7 516.11L31.7 514.13L32.7 512.7L33.7 513.56L34.7 512.45L35.7 512.7L36.7 513.12L37.7 512.96L38.7 512.07L39.7 511.15L40.7 511.65L41.7 511.52L42.7 511.09L43.7 510.37L44.7 510.3L45.7 510.82L46.7 510.53L47.7 510.23L48.7 510.62L49.7 510.01L50.7 509.86L51.7 510.08L52.7 509.48L53.7 509.32L54.7 509.81L55.7 510.39L56.7 509.66L57.7 508.72L58.7 509.96L59.7 510.58L60.7 508.37L61.7 507.89L62.7 508.54L63.7 508.95L64.7 508.75L65.7 507.57L66.7 508.52L67.7 507.45L68.7 505.27L69.7 506.08L70.7 506.47L71.7 506.5L72.7 506.59L73.7 507.11L74.7 505.75L75.7 506.87L76.7 508.08L77.7 505.08L78.7 503.9L79.7 503.75L80.7 502.2L81.7 502.45L82.7 502.85L83.7 501.76L84.7 501.33L85.7 500.84L86.7 501.09L87.7 499.96L88.7 500.32L89.7 499.58L90.7 497.37L91.7 497.41L92.7 497.29L93.7 496.49L94.7 494.93L95.7 493.76L96.7 492.43L97.7 489.65L98.7 487.93L99.7 486.09L100.7 482.46L101.7 480.01L102.7 476.22L103.7 472.43L104.7 470.78L105.7 468.27L106.7 466.83L107.7 466.37L108.7 464.82L109.7 465.83L110.7 466.77L111.7 465.36L112.7 465.86L113.7 465.41L114.7 465.74L115.7 469.18L116.7 469.74L117.7 468.75L118.7 467.94L119.7 467.86L120.7 467.11L121.7 468.68L122.7 472.26L123.7 473.93L124.7 475.85L125.7 479.75L126.7 482.3L127.7 483.94L128.7 483.97L129.7 482.73L130.7 482.71L131.7 482.38L132.7 481.4L133.7 481.18L134.7 480.93L135.7 481.96L136.7 483.38L137.7 481.06L138.7 476.6L139.7 474.91L140.7 474.95L141.7 471.95L142.7 469.09L143.7 467.42L144.7 464.52L145.7 462.12L146.7 460.06L147.7 458.21L148.7 456.59L149.7 455.27L150.7 456.26L151.7 456.07L152.7 456.32L153.7 458.35L154.7 458.71L155.7 460.81L156.7 464.59L157.7 468.66L158.7 473.22L159.7 477.94L160.7 481.65L161.7 482.67L162.7 483.25L163.7 485.32L164.7 487.83L165.7 490.5L166.7 491.45L167.7 491.36L168.7 493.13L169.7 493.62L170.7 494.64L171.7 497.28L172.7 496.82L173.7 497.86L174.7 499.4L175.7 499.2L176.7 499.98L177.7 500.54L178.7 501.21L179.7 501.33L180.7 500.34L181.7 501.76L182.7 503.45L183.7 503.58L184.7 504.23L185.7 505.14L186.7 505.42L187.7 504.7L188.7 507.2L189.7 509.24L190.7 508.54L191.7 508.93L192.7 509.9L193.7 508.12L194.7 507.28L195.7 509.4L196.7 510.66L197.7 510.45L198.7 510.41L199.7 510.4L200.7 510.35L201.7 509.93L202.7 510.04L203.7 512.78L204.7 512.37L205.7 511.83L206.7 511.91L207.7 510.79L208.7 513.42L209.7 513.59L210.7 511.89L211.7 512.25L212.7 510.43L213.7 510.65L214.7 513.13L215.7 512.37L216.7 511L217.7 511.36L218.7 512.65L219.7 512.63L220.7 512.89L221.7 514.05L222.7 512.17L223.7 510.71L224.7 511.96L225.7 512.29L226.7 512.93L227.7 514.45L228.7 513.44L229.7 513.34L230.7 514.31L231.7 513.61L232.7 513.89L233.7 513.59L234.7 513.11L235.7 512.93L236.7 512.01L237.7 513.59L238.7 515.43L239.7 514.44L240.7 514.03L241.7 513.64L242.7 512.38L243.7 513.01L244.7 514.53L245.7 514.12L246.7 513.13L247.7 513.08L248.7 512.31L249.7 510.93L250.7 511.6L251.7 511.92L252.7 512.95L253.7 514L254.7 513.23" fill="none" stroke="#a4202a" stroke-width="1.5" stroke-linejoin="round"/>
<path d="M21.7 537.22L22.7 537.76L23.7 538.15L24.7 536.8L25.7 536.81L26.7 536.03L27.7 535.81L28.7 536.3L29.7 536.18L30.7 536.76L31.7 535.6L32.7 535.53L33.7 536.22L34.7 535.24L35.7 536.35L36.7 537.3L37.7 534.81L38.7 533.25L39.7 534.02L40.7 534.59L41.7 533.41L42.7 533.61L43.7 533.73L44.7 531.72L45.7 530.89L46.7 530.91L47.7 529.6L48.7 528.72L49.7 528.17L50.7 528.27L51.7 529.81L52.7 528.95L53.7 528.64L54.7 528.61L55.7 528.14L56.7 528.49L57.7 527.59L58.7 527.42L59.7 527.26L60.7 527.73L61.7 528.51L62.7 529.02L63.7 527.77L64.7 527.54L65.7 528.42L66.7 527.79L67.7 527.59L68.7 528.31L69.7 529.33L70.7 528.68L71.7 527.43L72.7 524.45L73.7 524.15L74.7 525.38L75.7 524.52L76.7 524.67L77.7 525.66L78.7 525.72L79.7 524.79L80.7 524.36L81.7 525.33L82.7 527.05L83.7 527.46L84.7 527.18L85.7 526.49L86.7 524.99L87.7 525.43L88.7 525.93L89.7 522.86L90.7 520.72L91.7 521.54L92.7 521.59L93.7 519.19L94.7 518.75L95.7 518.75L96.7 516.2L97.7 513.43L98.7 510.09L99.7 509.26L100.7 510.19L101.7 508.87L102.7 505.49L103.7 504.63L104.7 504.34L105.7 501.87L106.7 502.93L107.7 503.03L108.7 503.28L109.7 506.12L110.7 506.44L111.7 506.95L112.7 505.71L113.7 501.95L114.7 500.53L115.7 499.66L116.7 496.49L117.7 492.76L118.7 491.84L119.7 492.78L120.7 493.78L121.7 495.68L122.7 498.26L123.7 500.47L124.7 502.2L125.7 501.95L126.7 502.07L127.7 501.84L128.7 501.8L129.7 502.24L130.7 501.47L131.7 502.97L132.7 502.26L133.7 501.73L134.7 502.79L135.7 501.25L136.7 498.98L137.7 497.19L138.7 496L139.7 495.9L140.7 495.24L141.7 495.06L142.7 495.2L143.7 495.68L144.7 494.87L145.7 494.73L146.7 496.73L147.7 495.61L148.7 495.97L149.7 497.47L150.7 495.85L151.7 492.13L152.7 490.12L153.7 488.4L154.7 486.55L155.7 486.07L156.7 486.65L157.7 488.16L158.7 490.2L159.7 493.86L160.7 495.82L161.7 498.3L162.7 501.57L163.7 504.66L164.7 507.88L165.7 509.84L166.7 511.65L167.7 514.5L168.7 516.93L169.7 517.19L170.7 518.04L171.7 519.81L172.7 520.62L173.7 519.15L174.7 519.19L175.7 522.08L176.7 522.69L177.7 521.98L178.7 521.77L179.7 522.36L180.7 522.76L181.7 523.7L182.7 524.63L183.7 525.01L184.7 526.64L185.7 528.87L186.7 529.78L187.7 530.53L188.7 531.62L189.7 531.35L190.7 532.18L191.7 533.8L192.7 534.35L193.7 534.13L194.7 533.88L195.7 533.22L196.7 533.44L197.7 535.6L198.7 535.6L199.7 534.47L200.7 535.69L201.7 535.82L202.7 535L203.7 534.08L204.7 534.49L205.7 536.34L206.7 535.73L207.7 535.55L208.7 536.39L209.7 533.74L210.7 534.14L211.7 535.25L212.7 534.73L213.7 536.22L214.7 535.88L215.7 535.41L216.7 535.42L217.7 535.43L218.7 535.44L219.7 535.29L220.7 535.55L221.7 536.15L222.7 536.07L223.7 536.21L224.7 535.76L225.7 535.66L226.7 536.85L227.7 537.85L228.7 536.33L229.7 535.73L230.7 536.84L231.7 534.85L232.7 534.19L233.7 534.87L234.7 535.7L235.7 537.48L236.7 538.01L237.7 537.09L238.7 537.16L239.7 537.25L240.7 536.39L241.7 534.98L242.7 534.27L243.7 535.08L244.7 535.02L245.7 534.54L246.7 534.73L247.7 536.15L248.7 536.79L249.7 536.23L250.7 535.6L251.7 535.05L252.7 535.25L253.7 535L254.7 535.11" fill="none" stroke="#701a22" stroke-width="1.5" stroke-linejoin="round"/>
<path d="M21.7 556.93L22.7 557.96L23.7 559.34L24.7 558.94L25.7 558.46L26.7 558.07L27.7 557.31L28.7 557.15L29.7 557.18L30.7 558.47L31.7 559.15L32.7 558.66L33.7 558.31L34.7 557.52L35.7 557.16L36.7 557.33L37.7 558.47L38.7 558.93L39.7 558.07L40.7 557.7L41.7 556.82L42.7 557.52L43.7 557.36L44.7 556.26L45.7 558.16L46.7 556.11L47.7 553.43L48.7 554.31L49.7 555.01L50.7 554.06L51.7 553.56L52.7 554.45L53.7 554.5L54.7 552.71L55.7 552.8L56.7 555.2L57.7 554.83L58.7 553.05L59.7 552.12L60.7 550.62L61.7 551.11L62.7 553.64L63.7 553.54L64.7 550.37L65.7 549.47L66.7 551.19L67.7 550.99L68.7 551.6L69.7 550.64L70.7 549.38L71.7 550.87L72.7 551.96L73.7 551.65L74.7 551.69L75.7 551.92L76.7 550.52L77.7 551.04L78.7 551.41L79.7 549.46L80.7 550.05L81.7 552.29L82.7 552.56L83.7 551.91L84.7 551.26L85.7 548.78L86.7 548.68L87.7 549.7L88.7 546.55L89.7 544.88L90.7 544.79L91.7 544.6L92.7 543.92L93.7 542.12L94.7 540.52L95.7 537.26L96.7 533.39L97.7 531.94L98.7 530.99L99.7 529.45L100.7 528.81L101.7 528.06L102.7 528.01L103.7 527.2L104.7 524.89L105.7 522.76L106.7 521.03L107.7 521.05L108.7 522.41L109.7 523.73L110.7 523.32L111.7 522.95L112.7 523.79L113.7 524.73L114.7 523.97L115.7 523.23L116.7 523.05L117.7 521.12L118.7 519.37L119.7 520.31L120.7 522.4L121.7 523.93L122.7 523.08L123.7 521.99L124.7 522.62L125.7 521L126.7 521.58L127.7 523.15L128.7 522.22L129.7 523.62L130.7 524.05L131.7 523.19L132.7 523.35L133.7 522.46L134.7 522.39L135.7 523.23L136.7 522.71L137.7 520.89L138.7 522.32L139.7 523.47L140.7 521.39L141.7 520.75L142.7 520.04L143.7 519.7L144.7 520.92L145.7 519.25L146.7 518.77L147.7 520.05L148.7 518.7L149.7 517.21L150.7 515.36L151.7 512.72L152.7 509.27L153.7 508.38L154.7 507.38L155.7 505.41L156.7 505.81L157.7 507.17L158.7 509.62L159.7 511.06L160.7 513.56L161.7 516.65L162.7 518.51L163.7 522.81L164.7 527.53L165.7 529.03L166.7 530.25L167.7 532.21L168.7 533.56L169.7 535.25L170.7 537.74L171.7 538.41L172.7 537.57L173.7 538.83L174.7 539.33L175.7 540.05L176.7 540.21L177.7 539.44L178.7 539.97L179.7 539.2L180.7 540.43L181.7 542.95L182.7 543.97L183.7 544.16L184.7 544.84L185.7 545.79L186.7 546.21L187.7 546.64L188.7 547.34L189.7 547.86L190.7 548.97L191.7 549.74L192.7 549.22L193.7 550.14L194.7 551.31L195.7 550.73L196.7 550.49L197.7 551.6L198.7 552.88L199.7 553.86L200.7 554.32L201.7 553.99L202.7 553.09L203.7 552.48L204.7 553.26L205.7 554.09L206.7 554.44L207.7 555.51L208.7 556.68L209.7 555.56L210.7 554.72L211.7 554.32L212.7 554.74L213.7 555.12L214.7 554.43L215.7 554.6L216.7 555.8L217.7 556.96L218.7 556.6L219.7 556.2L220.7 555.92L221.7 555.35L222.7 554.83L223.7 556.53L224.7 555.68L225.7 554.88L226.7 556.97L227.7 557.7L228.7 557.4L229.7 556.75L230.7 557.26L231.7 557.11L232.7 556.25L233.7 555.38L234.7 555.67L235.7 556.63L236.7 556.48L237.7 555.24L238.7 554.5L239.7 555.95L240.7 555.98L241.7 556.56L242.7 558.78L243.7 558.37L244.7 557.33L245.7 557.1L246.7 556.53L247.7 555.9L248.7 556.59L249.7 556.7L250.7 556.03L251.7 556.54L252.7 556.09L253.7 556.03L254.7 556.77" fill="none" stroke="#1a1a1a" stroke-width="1.5" stroke-linejoin="round"/>
<rect x="103.3" y="257.4" width="5.6" height="302.2" fill="#ff40ff" opacity="0.55"/>
<rect x="116.5" y="249.2" width="5.6" height="310.4" fill="#5050ff" opacity="0.55"/>
<rect x="152.6" y="243" width="5.6" height="316.6" fill="#00f070" opacity="0.68"/>
<rect x="171.5" y="277" width="5.6" height="282.6" fill="#ffff30" opacity="0.5"/>
<text x="250.5" y="288.7" font-size="10.2" fill="#0f4d4f" text-anchor="end" font-family="Liberation Sans, sans-serif" font-weight="bold" >d3.00 V</text>
<text x="250.5" y="310.4" font-size="10.2" fill="#1a9fb4" text-anchor="end" font-family="Liberation Sans, sans-serif" font-weight="bold" >d3.60 V</text>
<text x="250.5" y="335.2" font-size="10.2" fill="#22bfe2" text-anchor="end" font-family="Liberation Sans, sans-serif" font-weight="bold" >d3.84 V</text>
<text x="250.5" y="360.2" font-size="10.2" fill="#46d4f4" text-anchor="end" font-family="Liberation Sans, sans-serif" font-weight="bold" >d4.15 V</text>
<text x="250.5" y="411.6" font-size="10.2" fill="#f0809a" text-anchor="end" font-family="Liberation Sans, sans-serif" font-weight="bold" >c4.30 V</text>
<text x="250.5" y="436.2" font-size="10.2" fill="#ea4a52" text-anchor="end" font-family="Liberation Sans, sans-serif" font-weight="bold" >c4.20 V</text>
<text x="250.5" y="461.8" font-size="10.2" fill="#e42a2c" text-anchor="end" font-family="Liberation Sans, sans-serif" font-weight="bold" >c4.18 V</text>
<text x="250.5" y="485.7" font-size="10.2" fill="#d22428" text-anchor="end" font-family="Liberation Sans, sans-serif" font-weight="bold" >c4.13 V</text>
<text x="250.5" y="508.5" font-size="10.2" fill="#a4202a" text-anchor="end" font-family="Liberation Sans, sans-serif" font-weight="bold" >c3.84 V</text>
<text x="250.5" y="531.6" font-size="10.2" fill="#701a22" text-anchor="end" font-family="Liberation Sans, sans-serif" font-weight="bold" >c3.74 V</text>
<text x="241.8" y="553" font-size="10.2" fill="#1a1a1a" text-anchor="end" font-family="Liberation Sans, sans-serif" font-weight="bold" >OCV</text>
<rect x="21.7" y="204.6" width="234" height="155.7" fill="none" stroke="none"/>
<path d="M21.5 205.3H255.5V560.5H21.5Z" fill="none" stroke="#242424" stroke-width="1.7"/>
<line x1="21.9" y1="560.5" x2="21.9" y2="563.6" stroke="#242424" stroke-width="1.3"/>
<line x1="47.9" y1="560.5" x2="47.9" y2="563.6" stroke="#242424" stroke-width="1.3"/>
<line x1="73.9" y1="560.5" x2="73.9" y2="563.6" stroke="#242424" stroke-width="1.3"/>
<line x1="99.9" y1="560.5" x2="99.9" y2="563.6" stroke="#242424" stroke-width="1.3"/>
<line x1="125.9" y1="560.5" x2="125.9" y2="563.6" stroke="#242424" stroke-width="1.3"/>
<line x1="151.9" y1="560.5" x2="151.9" y2="563.6" stroke="#242424" stroke-width="1.3"/>
<line x1="177.9" y1="560.5" x2="177.9" y2="563.6" stroke="#242424" stroke-width="1.3"/>
<line x1="203.9" y1="560.5" x2="203.9" y2="563.6" stroke="#242424" stroke-width="1.3"/>
<line x1="229.9" y1="560.5" x2="229.9" y2="563.6" stroke="#242424" stroke-width="1.3"/>
<line x1="255.9" y1="560.5" x2="255.9" y2="563.6" stroke="#242424" stroke-width="1.3"/>
<text x="21.9" y="576.6" font-size="12.9" fill="#1a1a1a" text-anchor="middle" font-family="Liberation Sans, sans-serif" font-weight="bold" >300</text>
<text x="73.9" y="576.6" font-size="12.9" fill="#1a1a1a" text-anchor="middle" font-family="Liberation Sans, sans-serif" font-weight="bold" >400</text>
<text x="125.9" y="576.6" font-size="12.9" fill="#1a1a1a" text-anchor="middle" font-family="Liberation Sans, sans-serif" font-weight="bold" >500</text>
<text x="177.9" y="576.6" font-size="12.9" fill="#1a1a1a" text-anchor="middle" font-family="Liberation Sans, sans-serif" font-weight="bold" >600</text>
<text x="229.9" y="576.6" font-size="12.9" fill="#1a1a1a" text-anchor="middle" font-family="Liberation Sans, sans-serif" font-weight="bold" >700</text>
<text x="138.5" y="591.8" font-size="12.9" fill="#1a1a1a" text-anchor="middle" font-family="Liberation Sans, sans-serif" font-weight="bold" >Raman shift (cm<tspan font-size="7.6" dy="-5.2">-1</tspan><tspan dy="5.2">)</tspan></text>
<text transform="translate(12.3 381) rotate(-90)" font-size="13.1" fill="#1a1a1a" text-anchor="middle" font-family="Liberation Sans, sans-serif" font-weight="bold">Normalized intensity (a.u.)</text>
<text x="27.2" y="230.4" font-size="23" fill="#1a1a1a" text-anchor="start" font-family="Liberation Sans, sans-serif" font-weight="bold" >c</text>
<text x="252.4" y="220.4" font-size="13.2" fill="#1a1a1a" text-anchor="end" font-family="Liberation Sans, sans-serif" font-weight="bold" >0.2 C/0.2 C</text>
<text x="217.4" y="235.6" font-size="13.3" fill="#1a1a1a" text-anchor="middle" font-family="Liberation Sans, sans-serif" font-weight="bold" >1st cycle</text>
<text transform="translate(108.6 251.6) rotate(-90)" font-size="10" fill="#1a1a1a" font-family="Liberation Sans, sans-serif" font-weight="bold">E<tspan font-size="6.5" dy="2.5">g</tspan><tspan dy="-2.5">(Ni)</tspan></text>
<text transform="translate(122.6 243.5) rotate(-90)" font-size="10" fill="#1a1a1a" font-family="Liberation Sans, sans-serif" font-weight="bold">E<tspan font-size="6.5" dy="2.5">g</tspan><tspan dy="-2.5">(Co)</tspan></text>
<text transform="translate(158.6 238.6) rotate(-90)" font-size="10" fill="#1a1a1a" font-family="Liberation Sans, sans-serif" font-weight="bold">A<tspan font-size="6.5" dy="2.5">1g</tspan><tspan dy="-2.5">(Ni)</tspan></text>
<text transform="translate(178.2 269.6) rotate(-90)" font-size="10" fill="#1a1a1a" font-family="Liberation Sans, sans-serif" font-weight="bold">E<tspan font-size="6.5" dy="2.5">g</tspan><tspan dy="-2.5">(Mn)</tspan></text>
</g>
<g id="pd">
<line x1="515.59" y1="206.5" x2="515.59" y2="559" stroke="#d4d4d4" stroke-width="1" stroke-dasharray="3 3"/>
<line x1="492.68" y1="206.5" x2="492.68" y2="559" stroke="#d4d4d4" stroke-width="1" stroke-dasharray="3 3"/>
<line x1="469.77" y1="206.5" x2="469.77" y2="559" stroke="#d4d4d4" stroke-width="1" stroke-dasharray="3 3"/>
<line x1="446.86" y1="206.5" x2="446.86" y2="559" stroke="#d4d4d4" stroke-width="1" stroke-dasharray="3 3"/>
<line x1="423.95" y1="206.5" x2="423.95" y2="559" stroke="#d4d4d4" stroke-width="1" stroke-dasharray="3 3"/>
<line x1="401.04" y1="206.5" x2="401.04" y2="559" stroke="#d4d4d4" stroke-width="1" stroke-dasharray="3 3"/>
<line x1="378.13" y1="206.5" x2="378.13" y2="559" stroke="#d4d4d4" stroke-width="1" stroke-dasharray="3 3"/>
<line x1="355.22" y1="206.5" x2="355.22" y2="559" stroke="#d4d4d4" stroke-width="1" stroke-dasharray="3 3"/>
<line x1="332.31" y1="206.5" x2="332.31" y2="559" stroke="#d4d4d4" stroke-width="1" stroke-dasharray="3 3"/>
<line x1="309.4" y1="206.5" x2="309.4" y2="559" stroke="#d4d4d4" stroke-width="1" stroke-dasharray="3 3"/>
<path d="M307.5 351.2L484.5 311.2L519 234.3" fill="none" stroke="#7a7a7a" stroke-width="2"/>
<path d="M306.5 510.5L483 467.9L516.8 401" fill="none" stroke="#7a7a7a" stroke-width="2"/>
<path d="M308.2 346.83L314.2 357.15L302.2 357.15Z" fill="none" stroke="#1a1a1a" stroke-width="2.3" stroke-linejoin="miter"/>
<circle cx="308.2" cy="353.4" r="1.1" fill="#1a1a1a"/>
<path d="M317 345.83L323 356.15L311 356.15Z" fill="none" stroke="#701a22" stroke-width="2.3" stroke-linejoin="miter"/>
<circle cx="317" cy="352.4" r="1.1" fill="#701a22"/>
<path d="M336 347.83L342 358.15L330 358.15Z" fill="none" stroke="#0f4d4f" stroke-width="2.3" stroke-linejoin="miter"/>
<circle cx="336" cy="354.4" r="1.1" fill="#0f4d4f"/>
<path d="M360.7 318.43L366.7 328.75L354.7 328.75Z" fill="none" stroke="#1ca4bc" stroke-width="2.3" stroke-linejoin="miter"/>
<circle cx="360.7" cy="325" r="1.1" fill="#1ca4bc"/>
<path d="M410.8 326.43L416.8 336.75L404.8 336.75Z" fill="none" stroke="#a4202a" stroke-width="2.3" stroke-linejoin="miter"/>
<circle cx="410.8" cy="333" r="1.1" fill="#a4202a"/>
<path d="M428.4 309.83L434.4 320.15L422.4 320.15Z" fill="none" stroke="#20c0e4" stroke-width="2.3" stroke-linejoin="miter"/>
<circle cx="428.4" cy="316.4" r="1.1" fill="#20c0e4"/>
<path d="M477 314.23L483 324.55L471 324.55Z" fill="none" stroke="#d42226" stroke-width="2.3" stroke-linejoin="miter"/>
<circle cx="477" cy="320.8" r="1.1" fill="#d42226"/>
<path d="M487 307.13L493 317.45L481 317.45Z" fill="none" stroke="#44d2f2" stroke-width="2.3" stroke-linejoin="miter"/>
<circle cx="487" cy="313.7" r="1.1" fill="#44d2f2"/>
<path d="M489.8 299.03L495.8 309.35L483.8 309.35Z" fill="none" stroke="#e62628" stroke-width="2.3" stroke-linejoin="miter"/>
<circle cx="489.8" cy="305.6" r="1.1" fill="#e62628"/>
<path d="M498 274.93L504 285.25L492 285.25Z" fill="none" stroke="#ec4a56" stroke-width="2.3" stroke-linejoin="miter"/>
<circle cx="498" cy="281.5" r="1.1" fill="#ec4a56"/>
<path d="M512.5 243.63L518.5 253.95L506.5 253.95Z" fill="none" stroke="#f292a8" stroke-width="2.3" stroke-linejoin="miter"/>
<circle cx="512.5" cy="250.2" r="1.1" fill="#f292a8"/>
<circle cx="308.9" cy="507.4" r="4.6" fill="none" stroke="#1a1a1a" stroke-width="2.4"/>
<circle cx="308.9" cy="507.4" r="1.1" fill="#1a1a1a"/>
<circle cx="317.3" cy="508.2" r="4.6" fill="none" stroke="#701a22" stroke-width="2.4"/>
<circle cx="317.3" cy="508.2" r="1.1" fill="#701a22"/>
<circle cx="336.1" cy="508.7" r="4.6" fill="none" stroke="#0f4d4f" stroke-width="2.4"/>
<circle cx="336.1" cy="508.7" r="1.1" fill="#0f4d4f"/>
<circle cx="361" cy="494.7" r="4.6" fill="none" stroke="#1ca4bc" stroke-width="2.4"/>
<circle cx="361" cy="494.7" r="1.1" fill="#1ca4bc"/>
<circle cx="409.4" cy="487" r="4.6" fill="none" stroke="#a4202a" stroke-width="2.4"/>
<circle cx="409.4" cy="487" r="1.1" fill="#a4202a"/>
<circle cx="428.5" cy="480.2" r="4.6" fill="none" stroke="#20c0e4" stroke-width="2.4"/>
<circle cx="428.5" cy="480.2" r="1.1" fill="#20c0e4"/>
<circle cx="476.9" cy="468.9" r="4.6" fill="none" stroke="#d42226" stroke-width="2.4"/>
<circle cx="476.9" cy="468.9" r="1.1" fill="#d42226"/>
<circle cx="487.3" cy="467.9" r="4.6" fill="none" stroke="#44d2f2" stroke-width="2.4"/>
<circle cx="487.3" cy="467.9" r="1.1" fill="#44d2f2"/>
<circle cx="489.5" cy="450.9" r="4.6" fill="none" stroke="#e62628" stroke-width="2.4"/>
<circle cx="489.5" cy="450.9" r="1.1" fill="#e62628"/>
<circle cx="498.3" cy="432.9" r="4.6" fill="none" stroke="#ec4a56" stroke-width="2.4"/>
<circle cx="498.3" cy="432.9" r="1.1" fill="#ec4a56"/>
<circle cx="511.9" cy="410" r="4.6" fill="none" stroke="#f292a8" stroke-width="2.4"/>
<circle cx="511.9" cy="410" r="1.1" fill="#f292a8"/>
<path d="M364.7 215.18L369.2 222.92L360.2 222.92Z" fill="none" stroke="#1a1a1a" stroke-width="1.7" stroke-linejoin="miter"/>
<circle cx="364.7" cy="220.4" r="1.1" fill="#1a1a1a"/>
<text x="375.3" y="222.8" font-size="9.4" fill="#1a1a1a" text-anchor="start" font-family="Liberation Sans, sans-serif" font-weight="bold" >OCV</text>
<path d="M364.7 226.28L369.2 234.02L360.2 234.02Z" fill="none" stroke="#701a22" stroke-width="1.7" stroke-linejoin="miter"/>
<circle cx="364.7" cy="231.5" r="1.1" fill="#701a22"/>
<text x="375.3" y="233.9" font-size="9.4" fill="#1a1a1a" text-anchor="start" font-family="Liberation Sans, sans-serif" font-weight="bold" >c3.74V</text>
<path d="M364.7 237.38L369.2 245.12L360.2 245.12Z" fill="none" stroke="#a4202a" stroke-width="1.7" stroke-linejoin="miter"/>
<circle cx="364.7" cy="242.6" r="1.1" fill="#a4202a"/>
<text x="375.3" y="245" font-size="9.4" fill="#1a1a1a" text-anchor="start" font-family="Liberation Sans, sans-serif" font-weight="bold" >c3.84V</text>
<path d="M364.7 248.48L369.2 256.22L360.2 256.22Z" fill="none" stroke="#d42226" stroke-width="1.7" stroke-linejoin="miter"/>
<circle cx="364.7" cy="253.7" r="1.1" fill="#d42226"/>
<text x="375.3" y="256.1" font-size="9.4" fill="#1a1a1a" text-anchor="start" font-family="Liberation Sans, sans-serif" font-weight="bold" >c4.13V</text>
<path d="M364.7 259.58L369.2 267.32L360.2 267.32Z" fill="none" stroke="#e62628" stroke-width="1.7" stroke-linejoin="miter"/>
<circle cx="364.7" cy="264.8" r="1.1" fill="#e62628"/>
<text x="375.3" y="267.2" font-size="9.4" fill="#1a1a1a" text-anchor="start" font-family="Liberation Sans, sans-serif" font-weight="bold" >c4.18V</text>
<path d="M364.7 270.68L369.2 278.42L360.2 278.42Z" fill="none" stroke="#ec4a56" stroke-width="1.7" stroke-linejoin="miter"/>
<circle cx="364.7" cy="275.9" r="1.1" fill="#ec4a56"/>
<text x="375.3" y="278.3" font-size="9.4" fill="#1a1a1a" text-anchor="start" font-family="Liberation Sans, sans-serif" font-weight="bold" >c4.20V</text>
<path d="M364.7 281.78L369.2 289.52L360.2 289.52Z" fill="none" stroke="#f292a8" stroke-width="1.7" stroke-linejoin="miter"/>
<circle cx="364.7" cy="287" r="1.1" fill="#f292a8"/>
<text x="375.3" y="289.4" font-size="9.4" fill="#1a1a1a" text-anchor="start" font-family="Liberation Sans, sans-serif" font-weight="bold" >c4.30V</text>
<path d="M414.3 215.18L418.8 222.92L409.8 222.92Z" fill="none" stroke="#44d2f2" stroke-width="1.7" stroke-linejoin="miter"/>
<circle cx="414.3" cy="220.4" r="1.1" fill="#44d2f2"/>
<text x="425.7" y="222.8" font-size="9.4" fill="#1a1a1a" text-anchor="start" font-family="Liberation Sans, sans-serif" font-weight="bold" >d4.15V</text>
<path d="M414.3 226.28L418.8 234.02L409.8 234.02Z" fill="none" stroke="#20c0e4" stroke-width="1.7" stroke-linejoin="miter"/>
<circle cx="414.3" cy="231.5" r="1.1" fill="#20c0e4"/>
<text x="425.7" y="233.9" font-size="9.4" fill="#1a1a1a" text-anchor="start" font-family="Liberation Sans, sans-serif" font-weight="bold" >d3.84V</text>
<path d="M414.3 237.38L418.8 245.12L409.8 245.12Z" fill="none" stroke="#1ca4bc" stroke-width="1.7" stroke-linejoin="miter"/>
<circle cx="414.3" cy="242.6" r="1.1" fill="#1ca4bc"/>
<text x="425.7" y="245" font-size="9.4" fill="#1a1a1a" text-anchor="start" font-family="Liberation Sans, sans-serif" font-weight="bold" >d3.60V</text>
<path d="M414.3 248.48L418.8 256.22L409.8 256.22Z" fill="none" stroke="#0f4d4f" stroke-width="1.7" stroke-linejoin="miter"/>
<circle cx="414.3" cy="253.7" r="1.1" fill="#0f4d4f"/>
<text x="425.7" y="256.1" font-size="9.4" fill="#1a1a1a" text-anchor="start" font-family="Liberation Sans, sans-serif" font-weight="bold" >d3.00V</text>
<circle cx="364" cy="395.4" r="3.5" fill="none" stroke="#1a1a1a" stroke-width="1.8"/>
<circle cx="364" cy="395.4" r="1.1" fill="#1a1a1a"/>
<text x="375.3" y="399" font-size="9.4" fill="#1a1a1a" text-anchor="start" font-family="Liberation Sans, sans-serif" font-weight="bold" >OCV</text>
<circle cx="364" cy="406.75" r="3.5" fill="none" stroke="#701a22" stroke-width="1.8"/>
<circle cx="364" cy="406.75" r="1.1" fill="#701a22"/>
<text x="375.3" y="410.35" font-size="9.4" fill="#1a1a1a" text-anchor="start" font-family="Liberation Sans, sans-serif" font-weight="bold" >c3.74V</text>
<circle cx="364" cy="418.1" r="3.5" fill="none" stroke="#a4202a" stroke-width="1.8"/>
<circle cx="364" cy="418.1" r="1.1" fill="#a4202a"/>
<text x="375.3" y="421.7" font-size="9.4" fill="#1a1a1a" text-anchor="start" font-family="Liberation Sans, sans-serif" font-weight="bold" >c3.84V</text>
<circle cx="364" cy="429.45" r="3.5" fill="none" stroke="#d42226" stroke-width="1.8"/>
<circle cx="364" cy="429.45" r="1.1" fill="#d42226"/>
<text x="375.3" y="433.05" font-size="9.4" fill="#1a1a1a" text-anchor="start" font-family="Liberation Sans, sans-serif" font-weight="bold" >c4.13V</text>
<circle cx="364" cy="440.8" r="3.5" fill="none" stroke="#e62628" stroke-width="1.8"/>
<circle cx="364" cy="440.8" r="1.1" fill="#e62628"/>
<text x="375.3" y="444.4" font-size="9.4" fill="#1a1a1a" text-anchor="start" font-family="Liberation Sans, sans-serif" font-weight="bold" >c4.18V</text>
<circle cx="364" cy="452.15" r="3.5" fill="none" stroke="#ec4a56" stroke-width="1.8"/>
<circle cx="364" cy="452.15" r="1.1" fill="#ec4a56"/>
<text x="375.3" y="455.75" font-size="9.4" fill="#1a1a1a" text-anchor="start" font-family="Liberation Sans, sans-serif" font-weight="bold" >c4.20V</text>
<circle cx="364" cy="463.5" r="3.5" fill="none" stroke="#f292a8" stroke-width="1.8"/>
<circle cx="364" cy="463.5" r="1.1" fill="#f292a8"/>
<text x="375.3" y="467.1" font-size="9.4" fill="#1a1a1a" text-anchor="start" font-family="Liberation Sans, sans-serif" font-weight="bold" >c4.30V</text>
<circle cx="413.9" cy="395.4" r="3.5" fill="none" stroke="#44d2f2" stroke-width="1.8"/>
<circle cx="413.9" cy="395.4" r="1.1" fill="#44d2f2"/>
<text x="425.7" y="399" font-size="9.4" fill="#1a1a1a" text-anchor="start" font-family="Liberation Sans, sans-serif" font-weight="bold" >d4.15V</text>
<circle cx="413.9" cy="406.75" r="3.5" fill="none" stroke="#20c0e4" stroke-width="1.8"/>
<circle cx="413.9" cy="406.75" r="1.1" fill="#20c0e4"/>
<text x="425.7" y="410.35" font-size="9.4" fill="#1a1a1a" text-anchor="start" font-family="Liberation Sans, sans-serif" font-weight="bold" >d3.84V</text>
<circle cx="413.9" cy="418.1" r="3.5" fill="none" stroke="#1ca4bc" stroke-width="1.8"/>
<circle cx="413.9" cy="418.1" r="1.1" fill="#1ca4bc"/>
<text x="425.7" y="421.7" font-size="9.4" fill="#1a1a1a" text-anchor="start" font-family="Liberation Sans, sans-serif" font-weight="bold" >d3.60V</text>
<circle cx="413.9" cy="429.45" r="3.5" fill="none" stroke="#0f4d4f" stroke-width="1.8"/>
<circle cx="413.9" cy="429.45" r="1.1" fill="#0f4d4f"/>
<text x="425.7" y="433.05" font-size="9.4" fill="#1a1a1a" text-anchor="start" font-family="Liberation Sans, sans-serif" font-weight="bold" >d3.00V</text>
<path d="M304.3 204.8H538.5V560.5H304.3Z" fill="none" stroke="#242424" stroke-width="1.7"/>
<line x1="304.3" y1="382.5" x2="538.5" y2="382.5" stroke="#242424" stroke-width="1.7"/>
<line x1="538.5" y1="560.5" x2="538.5" y2="564.3" stroke="#242424" stroke-width="1.4"/>
<line x1="538.5" y1="382.5" x2="538.5" y2="386.3" stroke="#242424" stroke-width="1.4"/>
<line x1="515.59" y1="560.5" x2="515.59" y2="564.3" stroke="#242424" stroke-width="1.4"/>
<line x1="515.59" y1="382.5" x2="515.59" y2="386.3" stroke="#242424" stroke-width="1.4"/>
<line x1="492.68" y1="560.5" x2="492.68" y2="564.3" stroke="#242424" stroke-width="1.4"/>
<line x1="492.68" y1="382.5" x2="492.68" y2="386.3" stroke="#242424" stroke-width="1.4"/>
<line x1="469.77" y1="560.5" x2="469.77" y2="564.3" stroke="#242424" stroke-width="1.4"/>
<line x1="469.77" y1="382.5" x2="469.77" y2="386.3" stroke="#242424" stroke-width="1.4"/>
<line x1="446.86" y1="560.5" x2="446.86" y2="564.3" stroke="#242424" stroke-width="1.4"/>
<line x1="446.86" y1="382.5" x2="446.86" y2="386.3" stroke="#242424" stroke-width="1.4"/>
<line x1="423.95" y1="560.5" x2="423.95" y2="564.3" stroke="#242424" stroke-width="1.4"/>
<line x1="423.95" y1="382.5" x2="423.95" y2="386.3" stroke="#242424" stroke-width="1.4"/>
<line x1="401.04" y1="560.5" x2="401.04" y2="564.3" stroke="#242424" stroke-width="1.4"/>
<line x1="401.04" y1="382.5" x2="401.04" y2="386.3" stroke="#242424" stroke-width="1.4"/>
<line x1="378.13" y1="560.5" x2="378.13" y2="564.3" stroke="#242424" stroke-width="1.4"/>
<line x1="378.13" y1="382.5" x2="378.13" y2="386.3" stroke="#242424" stroke-width="1.4"/>
<line x1="355.22" y1="560.5" x2="355.22" y2="564.3" stroke="#242424" stroke-width="1.4"/>
<line x1="355.22" y1="382.5" x2="355.22" y2="386.3" stroke="#242424" stroke-width="1.4"/>
<line x1="332.31" y1="560.5" x2="332.31" y2="564.3" stroke="#242424" stroke-width="1.4"/>
<line x1="332.31" y1="382.5" x2="332.31" y2="386.3" stroke="#242424" stroke-width="1.4"/>
<line x1="309.4" y1="560.5" x2="309.4" y2="564.3" stroke="#242424" stroke-width="1.4"/>
<line x1="309.4" y1="382.5" x2="309.4" y2="386.3" stroke="#242424" stroke-width="1.4"/>
<text x="538.5" y="579.6" font-size="12.6" fill="#1a1a1a" text-anchor="middle" font-family="Liberation Sans, sans-serif" font-weight="bold" >0.0</text>
<text x="492.68" y="579.6" font-size="12.6" fill="#1a1a1a" text-anchor="middle" font-family="Liberation Sans, sans-serif" font-weight="bold" >0.2</text>
<text x="446.86" y="579.6" font-size="12.6" fill="#1a1a1a" text-anchor="middle" font-family="Liberation Sans, sans-serif" font-weight="bold" >0.4</text>
<text x="401.04" y="579.6" font-size="12.6" fill="#1a1a1a" text-anchor="middle" font-family="Liberation Sans, sans-serif" font-weight="bold" >0.6</text>
<text x="355.22" y="579.6" font-size="12.6" fill="#1a1a1a" text-anchor="middle" font-family="Liberation Sans, sans-serif" font-weight="bold" >0.8</text>
<text x="309.4" y="579.6" font-size="12.6" fill="#1a1a1a" text-anchor="middle" font-family="Liberation Sans, sans-serif" font-weight="bold" >1.0</text>
<line x1="300.6" y1="352.5" x2="304.3" y2="352.5" stroke="#242424" stroke-width="1.3"/>
<line x1="300.6" y1="323" x2="304.3" y2="323" stroke="#242424" stroke-width="1.3"/>
<line x1="300.6" y1="293.5" x2="304.3" y2="293.5" stroke="#242424" stroke-width="1.3"/>
<line x1="300.6" y1="264" x2="304.3" y2="264" stroke="#242424" stroke-width="1.3"/>
<line x1="300.6" y1="234.5" x2="304.3" y2="234.5" stroke="#242424" stroke-width="1.3"/>
<line x1="300.6" y1="205" x2="304.3" y2="205" stroke="#242424" stroke-width="1.3"/>
<text x="297.2" y="357" font-size="12.6" fill="#1a1a1a" text-anchor="end" font-family="Liberation Sans, sans-serif" font-weight="bold" >2</text>
<text x="297.2" y="298" font-size="12.6" fill="#1a1a1a" text-anchor="end" font-family="Liberation Sans, sans-serif" font-weight="bold" >4</text>
<text x="297.2" y="239" font-size="12.6" fill="#1a1a1a" text-anchor="end" font-family="Liberation Sans, sans-serif" font-weight="bold" >6</text>
<line x1="300.6" y1="560.5" x2="304.3" y2="560.5" stroke="#242424" stroke-width="1.3"/>
<line x1="300.6" y1="530.84" x2="304.3" y2="530.84" stroke="#242424" stroke-width="1.3"/>
<line x1="300.6" y1="501.17" x2="304.3" y2="501.17" stroke="#242424" stroke-width="1.3"/>
<line x1="300.6" y1="471.5" x2="304.3" y2="471.5" stroke="#242424" stroke-width="1.3"/>
<line x1="300.6" y1="441.84" x2="304.3" y2="441.84" stroke="#242424" stroke-width="1.3"/>
<line x1="300.6" y1="412.18" x2="304.3" y2="412.18" stroke="#242424" stroke-width="1.3"/>
<line x1="300.6" y1="382.51" x2="304.3" y2="382.51" stroke="#242424" stroke-width="1.3"/>
<text x="299" y="565" font-size="12.6" fill="#1a1a1a" text-anchor="end" font-family="Liberation Sans, sans-serif" font-weight="bold" >2</text>
<text x="299" y="505.67" font-size="12.6" fill="#1a1a1a" text-anchor="end" font-family="Liberation Sans, sans-serif" font-weight="bold" >3</text>
<text x="299" y="446.34" font-size="12.6" fill="#1a1a1a" text-anchor="end" font-family="Liberation Sans, sans-serif" font-weight="bold" >4</text>
<text x="299" y="387.01" font-size="12.6" fill="#1a1a1a" text-anchor="end" font-family="Liberation Sans, sans-serif" font-weight="bold" >5</text>
<text x="312" y="230" font-size="23" fill="#1a1a1a" text-anchor="start" font-family="Liberation Sans, sans-serif" font-weight="bold" >d</text>
<text x="475.4" y="553.9" font-size="14.0" fill="#1a1a1a" text-anchor="start" font-family="Liberation Sans, sans-serif" font-weight="bold" >1st cycle</text>
<text x="337.3" y="594.3" font-size="12.9" fill="#1a1a1a" text-anchor="start" font-family="Liberation Sans, sans-serif" font-weight="bold" >x in Li<tspan font-size="8.8" dx="1.8" dy="4.6">x</tspan><tspan dx="0.4" dy="-4.6">Ni</tspan><tspan font-size="8.8" dx="1.2" dy="4.6">0.89</tspan><tspan dx="0.4" dy="-4.6">Co</tspan><tspan font-size="8.8" dx="1.2" dy="4.6">0.10</tspan><tspan dx="0.4" dy="-4.6">Mn</tspan><tspan font-size="8.8" dx="1.2" dy="4.6">0.01</tspan><tspan dx="0.4" dy="-4.6">O</tspan><tspan font-size="8.8" dx="1.2" dy="4.6">2</tspan></text>
<text transform="translate(278.6 300.2) rotate(-90)" font-size="14.2" fill="#1a1a1a" text-anchor="middle" font-family="Liberation Sans, sans-serif" font-weight="bold">I(E<tspan font-size="8" dy="3.8">g</tspan><tspan dy="-3.8">(Ni))/I(E</tspan><tspan font-size="8" dy="3.8">g</tspan><tspan dy="-3.8">(Mn))</tspan></text>
<text transform="translate(280.6 469.9) rotate(-90)" font-size="14.2" fill="#1a1a1a" text-anchor="middle" font-family="Liberation Sans, sans-serif" font-weight="bold">I(A<tspan font-size="8" dy="3.8">1g</tspan><tspan dy="-3.8">(Ni))/I(E</tspan><tspan font-size="8" dy="3.8">g</tspan><tspan dy="-3.8">(Mn))</tspan></text>
</g>
</svg></body></html>
